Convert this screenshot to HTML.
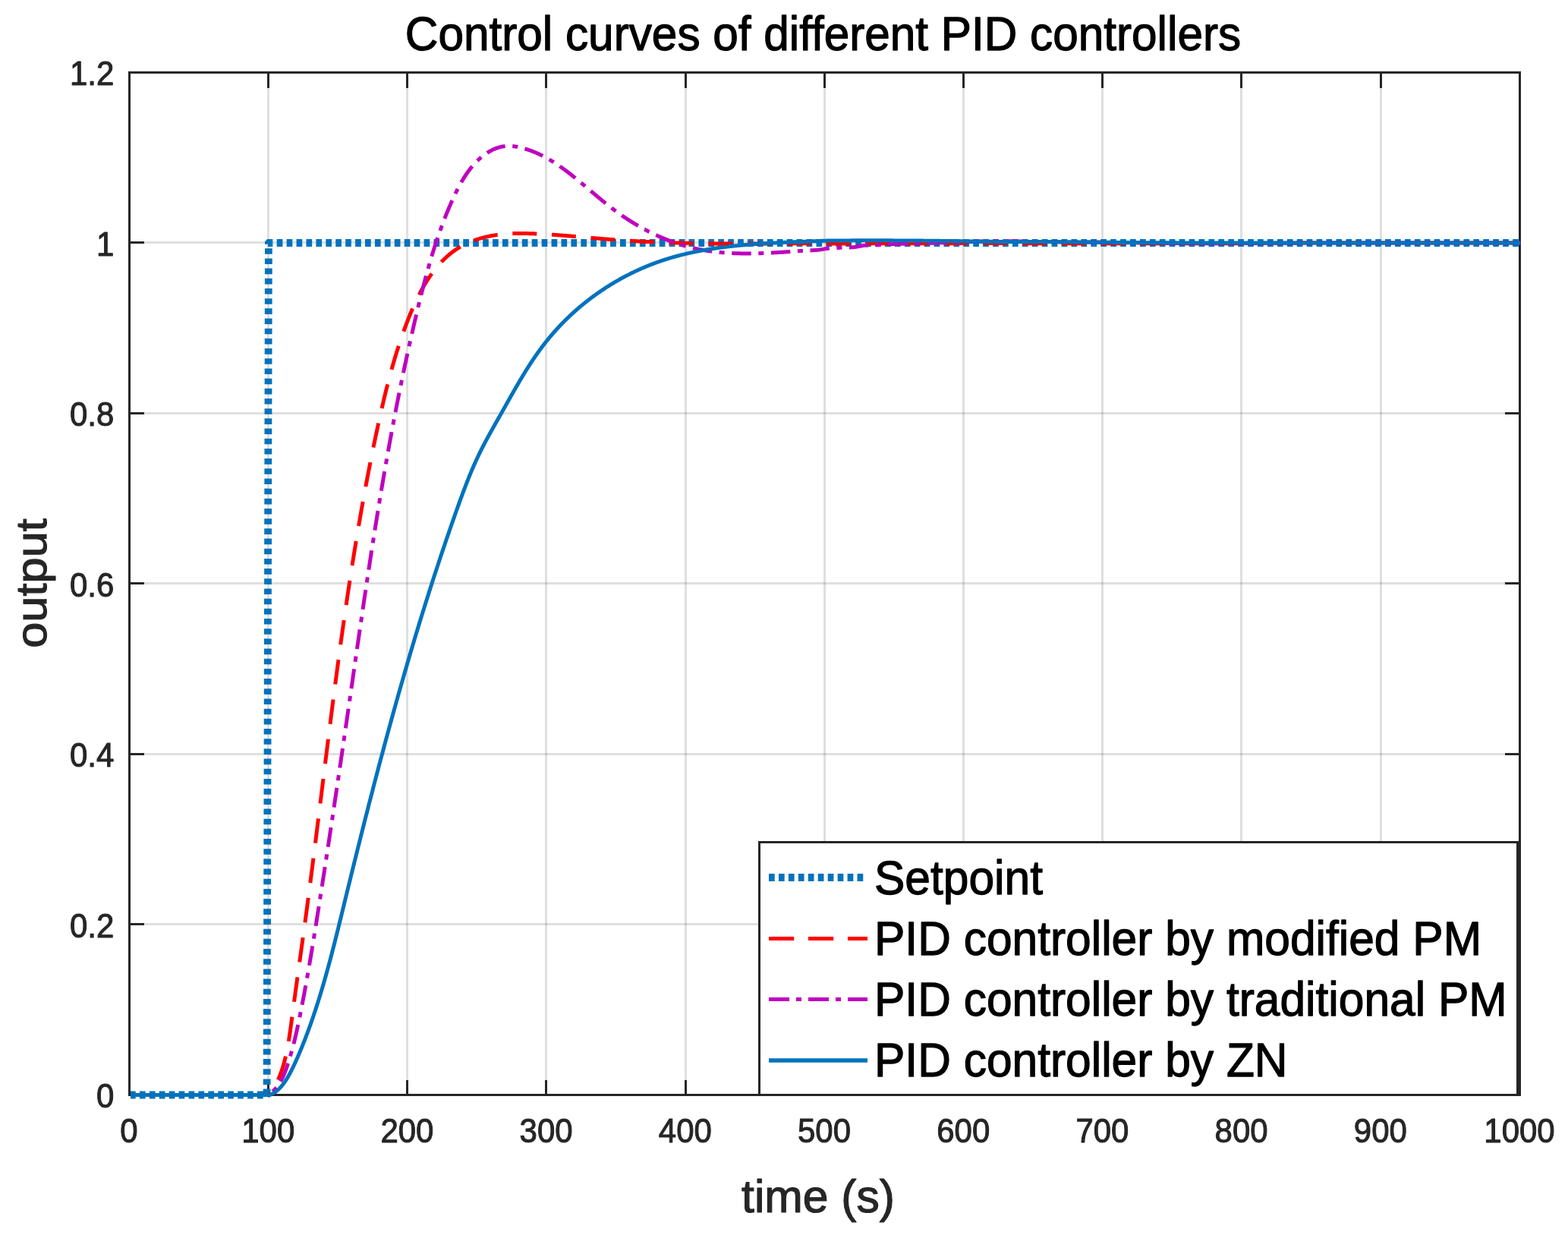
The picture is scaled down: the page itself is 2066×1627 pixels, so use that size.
<!DOCTYPE html><html><head><meta charset="utf-8"><title>Control curves of different PID controllers</title><style>html,body{margin:0;padding:0;background:#fff;overflow:hidden;}svg{display:block;}text{font-family:"Liberation Sans",Arial,Helvetica,sans-serif;}</style></head><body>
<svg width="2066" height="1627" viewBox="0 0 2066 1627">
<rect x="0" y="0" width="2066" height="1627" fill="#ffffff"/>
<defs><clipPath id="ax"><rect x="172" y="0" width="1831.5" height="1627"/></clipPath></defs>
<path d="M353.5,97 V1441 M536.5,97 V1441 M719.5,97 V1441 M903.5,97 V1441 M1086.5,97 V1441 M1269.5,97 V1441 M1452.5,97 V1441 M1635.5,97 V1441 M1819.5,97 V1441" stroke="#262626" stroke-opacity="0.15" stroke-width="3" fill="none"/>
<path d="M172,1217.5 H2001 M172,993.5 H2001 M172,768.5 H2001 M172,544.5 H2001 M172,319.5 H2001" stroke="#262626" stroke-opacity="0.15" stroke-width="3" fill="none"/>
<path d="M170.5,1442.5 V1422.9 M170.5,95.5 V116.0 M353.5,1442.5 V1422.9 M353.5,95.5 V116.0 M536.5,1442.5 V1422.9 M536.5,95.5 V116.0 M719.5,1442.5 V1422.9 M719.5,95.5 V116.0 M903.5,1442.5 V1422.9 M903.5,95.5 V116.0 M1086.5,1442.5 V1422.9 M1086.5,95.5 V116.0 M1269.5,1442.5 V1422.9 M1269.5,95.5 V116.0 M1452.5,1442.5 V1422.9 M1452.5,95.5 V116.0 M1635.5,1442.5 V1422.9 M1635.5,95.5 V116.0 M1819.5,1442.5 V1422.9 M1819.5,95.5 V116.0 M2002.5,1442.5 V1422.9 M2002.5,95.5 V116.0 M170.5,1442.5 H190.0 M2002.5,1442.5 H1983.0 M170.5,1217.5 H190.0 M2002.5,1217.5 H1983.0 M170.5,993.5 H190.0 M2002.5,993.5 H1983.0 M170.5,768.5 H190.0 M2002.5,768.5 H1983.0 M170.5,544.5 H190.0 M2002.5,544.5 H1983.0 M170.5,319.5 H190.0 M2002.5,319.5 H1983.0 M170.5,95.5 H190.0 M2002.5,95.5 H1983.0" stroke="#262626" stroke-width="3" fill="none"/>
<rect x="170.5" y="95.5" width="1832.0" height="1347.0" stroke="#262626" stroke-width="3" fill="none"/>
<g clip-path="url(#ax)" fill="none" stroke-linecap="butt" stroke-linejoin="round">
<path d="M171.00,1442.50 L178.70,1442.50 M183.92,1442.50 L191.62,1442.50 M196.85,1442.50 L204.55,1442.50 M209.77,1442.50 L217.47,1442.50 M222.69,1442.50 L230.39,1442.50 M235.62,1442.50 L243.32,1442.50 M248.54,1442.50 L256.24,1442.50 M261.47,1442.50 L269.17,1442.50 M274.39,1442.50 L282.09,1442.50 M287.31,1442.50 L295.01,1442.50 M300.24,1442.50 L307.94,1442.50 M313.16,1442.50 L320.86,1442.50 M326.08,1442.50 L333.78,1442.50 M339.01,1442.50 L346.71,1442.50 M351.60,1442.19 L351.62,1434.59 M351.63,1429.00 L351.64,1421.40 M351.65,1415.82 L351.67,1408.22 M351.68,1402.64 L351.70,1395.04 M351.71,1389.46 L351.72,1381.86 M351.74,1376.27 L351.75,1368.67 M351.76,1363.09 L351.78,1355.49 M351.79,1349.91 L351.81,1342.31 M351.82,1336.73 L351.83,1329.13 M351.84,1323.54 L351.86,1315.94 M351.87,1310.36 L351.89,1302.76 M351.90,1297.18 L351.91,1289.58 M351.92,1283.99 L351.94,1276.39 M351.95,1270.81 L351.97,1263.21 M351.98,1257.63 L351.99,1250.03 M352.01,1244.45 L352.02,1236.85 M352.03,1231.26 L352.05,1223.66 M352.06,1218.08 L352.08,1210.48 M352.09,1204.90 L352.10,1197.30 M352.11,1191.72 L352.13,1184.12 M352.14,1178.53 L352.16,1170.93 M352.17,1165.35 L352.18,1157.75 M352.19,1152.17 L352.21,1144.57 M352.22,1138.98 L352.24,1131.38 M352.25,1125.80 L352.26,1118.20 M352.28,1112.62 L352.29,1105.02 M352.30,1099.44 L352.32,1091.84 M352.33,1086.25 L352.35,1078.65 M352.36,1073.07 L352.37,1065.47 M352.38,1059.89 L352.40,1052.29 M352.41,1046.71 L352.43,1039.11 M352.44,1033.52 L352.45,1025.92 M352.47,1020.34 L352.48,1012.74 M352.49,1007.16 L352.51,999.56 M352.52,993.97 L352.53,986.37 M352.55,980.79 L352.56,973.19 M352.57,967.61 L352.59,960.01 M352.60,954.43 L352.62,946.83 M352.63,941.24 L352.64,933.64 M352.65,928.06 L352.67,920.46 M352.68,914.88 L352.70,907.28 M352.71,901.70 L352.72,894.10 M352.74,888.51 L352.75,880.91 M352.76,875.33 L352.78,867.73 M352.79,862.15 L352.80,854.55 M352.82,848.97 L352.83,841.37 M352.84,835.78 L352.86,828.18 M352.87,822.60 L352.89,815.00 M352.90,809.42 L352.91,801.82 M352.92,796.23 L352.94,788.63 M352.95,783.05 L352.97,775.45 M352.98,769.87 L352.99,762.27 M353.01,756.69 L353.02,749.09 M353.03,743.50 L353.05,735.90 M353.06,730.32 L353.07,722.72 M353.09,717.14 L353.10,709.54 M353.11,703.96 L353.13,696.36 M353.14,690.77 L353.16,683.17 M353.17,677.59 L353.18,669.99 M353.19,664.41 L353.21,656.81 M353.22,651.22 L353.24,643.62 M353.25,638.04 L353.26,630.44 M353.28,624.86 L353.29,617.26 M353.30,611.68 L353.32,604.08 M353.33,598.49 L353.34,590.89 M353.36,585.31 L353.37,577.71 M353.38,572.13 L353.40,564.53 M353.41,558.95 L353.43,551.35 M353.44,545.76 L353.45,538.16 M353.46,532.58 L353.48,524.98 M353.49,519.40 L353.51,511.80 M353.52,506.22 L353.53,498.62 M353.55,493.03 L353.56,485.43 M353.57,479.85 L353.59,472.25 M353.60,466.67 L353.62,459.07 M353.63,453.48 L353.64,445.88 M353.65,440.30 L353.67,432.70 M353.68,427.12 L353.70,419.52 M353.71,413.94 L353.72,406.34 M353.73,400.75 L353.75,393.15 M353.76,387.57 L353.78,379.97 M353.79,374.39 L353.80,366.79 M353.82,361.21 L353.83,353.61 M353.84,348.02 L353.86,340.42 M353.87,334.84 L353.89,327.24 M359.00,320.00 L359.48,320.00 M364.70,320.00 L372.40,320.00 M377.62,320.00 L385.32,320.00 M390.55,320.00 L398.25,320.00 M403.47,320.00 L411.17,320.00 M416.39,320.00 L424.09,320.00 M429.32,320.00 L437.02,320.00 M442.24,320.00 L449.94,320.00 M455.17,320.00 L462.87,320.00 M468.09,320.00 L475.79,320.00 M481.01,320.00 L488.71,320.00 M493.94,320.00 L501.64,320.00 M506.86,320.00 L514.56,320.00 M519.78,320.00 L527.48,320.00 M532.71,320.00 L540.41,320.00 M545.63,320.00 L553.33,320.00 M558.55,320.00 L566.25,320.00 M571.48,320.00 L579.18,320.00 M584.40,320.00 L592.10,320.00 M597.32,320.00 L605.02,320.00 M610.25,320.00 L617.95,320.00 M623.17,320.00 L630.87,320.00 M636.10,320.00 L643.80,320.00 M649.02,320.00 L656.72,320.00 M661.94,320.00 L669.64,320.00 M674.87,320.00 L682.57,320.00 M687.79,320.00 L695.49,320.00 M700.71,320.00 L708.41,320.00 M713.64,320.00 L721.34,320.00 M726.56,320.00 L734.26,320.00 M739.48,320.00 L747.18,320.00 M752.41,320.00 L760.11,320.00 M765.33,320.00 L773.03,320.00 M778.26,320.00 L785.96,320.00 M791.18,320.00 L798.88,320.00 M804.10,320.00 L811.80,320.00 M817.03,320.00 L824.73,320.00 M829.95,320.00 L837.65,320.00 M842.87,320.00 L850.57,320.00 M855.80,320.00 L863.50,320.00 M868.72,320.00 L876.42,320.00 M881.64,320.00 L889.34,320.00 M894.57,320.00 L902.27,320.00 M907.49,320.00 L915.19,320.00 M920.41,320.00 L928.11,320.00 M933.34,320.00 L941.04,320.00 M946.26,320.00 L953.96,320.00 M959.19,320.00 L966.89,320.00 M972.11,320.00 L979.81,320.00 M985.03,320.00 L992.73,320.00 M997.96,320.00 L1005.66,320.00 M1010.88,320.00 L1018.58,320.00 M1023.80,320.00 L1031.50,320.00 M1036.73,320.00 L1044.43,320.00 M1049.65,320.00 L1057.35,320.00 M1062.57,320.00 L1070.27,320.00 M1075.50,320.00 L1083.20,320.00 M1088.42,320.00 L1096.12,320.00 M1101.35,320.00 L1109.05,320.00 M1114.27,320.00 L1121.97,320.00 M1127.19,320.00 L1134.89,320.00 M1140.12,320.00 L1147.82,320.00 M1153.04,320.00 L1160.74,320.00 M1165.96,320.00 L1173.66,320.00 M1178.89,320.00 L1186.59,320.00 M1191.81,320.00 L1199.51,320.00 M1204.73,320.00 L1212.43,320.00 M1217.66,320.00 L1225.36,320.00 M1230.58,320.00 L1238.28,320.00 M1243.50,320.00 L1251.20,320.00 M1256.43,320.00 L1264.13,320.00 M1269.35,320.00 L1277.05,320.00 M1282.28,320.00 L1289.98,320.00 M1295.20,320.00 L1302.90,320.00 M1308.12,320.00 L1315.82,320.00 M1321.05,320.00 L1328.75,320.00 M1333.97,320.00 L1341.67,320.00 M1346.89,320.00 L1354.59,320.00 M1359.82,320.00 L1367.52,320.00 M1372.74,320.00 L1380.44,320.00 M1385.66,320.00 L1393.36,320.00 M1398.59,320.00 L1406.29,320.00 M1411.51,320.00 L1419.21,320.00 M1424.44,320.00 L1432.14,320.00 M1437.36,320.00 L1445.06,320.00 M1450.28,320.00 L1457.98,320.00 M1463.21,320.00 L1470.91,320.00 M1476.13,320.00 L1483.83,320.00 M1489.05,320.00 L1496.75,320.00 M1501.98,320.00 L1509.68,320.00 M1514.90,320.00 L1522.60,320.00 M1527.82,320.00 L1535.52,320.00 M1540.75,320.00 L1548.45,320.00 M1553.67,320.00 L1561.37,320.00 M1566.59,320.00 L1574.29,320.00 M1579.52,320.00 L1587.22,320.00 M1592.44,320.00 L1600.14,320.00 M1605.37,320.00 L1613.07,320.00 M1618.29,320.00 L1625.99,320.00 M1631.21,320.00 L1638.91,320.00 M1644.14,320.00 L1651.84,320.00 M1657.06,320.00 L1664.76,320.00 M1669.98,320.00 L1677.68,320.00 M1682.91,320.00 L1690.61,320.00 M1695.83,320.00 L1703.53,320.00 M1708.75,320.00 L1716.45,320.00 M1721.68,320.00 L1729.38,320.00 M1734.60,320.00 L1742.30,320.00 M1747.53,320.00 L1755.23,320.00 M1760.45,320.00 L1768.15,320.00 M1773.37,320.00 L1781.07,320.00 M1786.30,320.00 L1794.00,320.00 M1799.22,320.00 L1806.92,320.00 M1812.14,320.00 L1819.84,320.00 M1825.07,320.00 L1832.77,320.00 M1837.99,320.00 L1845.69,320.00 M1850.91,320.00 L1858.61,320.00 M1863.84,320.00 L1871.54,320.00 M1876.76,320.00 L1884.46,320.00 M1889.68,320.00 L1897.38,320.00 M1902.61,320.00 L1910.31,320.00 M1915.53,320.00 L1923.23,320.00 M1928.46,320.00 L1936.16,320.00 M1941.38,320.00 L1949.08,320.00 M1954.30,320.00 L1962.00,320.00 M1967.23,320.00 L1974.93,320.00 M1980.15,320.00 L1987.85,320.00 M1993.07,320.00 L2000.77,320.00" stroke="#0072bd" stroke-width="9.8"/>
<path d="M352.2,315.1 L358.8,315.1 L358.8,324.9 L353,324.9 L353,321.7 L349,321.7 L349,318.3 Z" fill="#0072bd" stroke="none"/>
<path d="M170.99,1442.50 L202.99,1442.50 M222.68,1442.50 L254.68,1442.50 M274.38,1442.50 L306.38,1442.50 M326.07,1442.50 L353.70,1442.50 L354.12,1442.93 L354.49,1442.45 L354.85,1441.98 L355.21,1441.50 L355.57,1441.02 L355.92,1440.54 L356.28,1440.06 L356.41,1439.86 M366.36,1422.56 L366.51,1422.22 L366.99,1421.16 L367.45,1420.09 L367.91,1419.01 L368.35,1417.93 L368.79,1416.84 L369.22,1415.76 L369.63,1414.66 L370.04,1413.57 L370.44,1412.47 L370.83,1411.36 L371.21,1410.25 L371.58,1409.14 L371.95,1408.03 L372.30,1406.91 L372.65,1405.79 L372.99,1404.67 L373.32,1403.54 L373.65,1402.42 L373.97,1401.29 L374.28,1400.15 L374.59,1399.02 L375.03,1397.31 L375.46,1395.60 L375.88,1393.88 L376.29,1392.16 L376.41,1391.63 M380.26,1371.94 L380.47,1370.70 L380.85,1368.36 L381.22,1366.01 L381.57,1363.67 L381.92,1361.32 L382.26,1358.97 L382.59,1356.62 L382.92,1354.26 L383.24,1351.91 L383.56,1349.55 L383.87,1347.20 L384.18,1344.84 L384.49,1342.49 L384.80,1340.13 L384.87,1339.64 M387.53,1319.73 L387.63,1318.97 L387.95,1316.62 L388.27,1314.27 L388.59,1311.93 L388.91,1309.58 L389.23,1307.23 L389.55,1304.89 L389.87,1302.55 L390.19,1300.20 L390.51,1297.86 L390.83,1295.52 L391.15,1293.17 L391.48,1290.83 L391.80,1288.49 L391.95,1287.41 M394.70,1267.52 L394.71,1267.44 L395.04,1265.11 L395.36,1262.77 L395.69,1260.43 L396.01,1258.10 L396.33,1255.76 L396.66,1253.43 L396.98,1251.09 L397.30,1248.76 L397.63,1246.42 L397.95,1244.09 L398.27,1241.75 L398.59,1239.42 L398.91,1237.08 L399.17,1235.20 M401.89,1215.30 L402.10,1213.75 L402.42,1211.41 L402.73,1209.08 L403.04,1206.74 L403.36,1204.41 L403.67,1202.08 L403.98,1199.74 L404.29,1197.41 L404.60,1195.07 L404.91,1192.74 L405.22,1190.41 L405.53,1188.07 L405.84,1185.74 L406.14,1183.40 L406.20,1182.96 M408.80,1163.04 L408.89,1162.39 L409.19,1160.06 L409.49,1157.72 L409.79,1155.39 L410.09,1153.05 L410.46,1150.13 L410.84,1147.21 L411.21,1144.30 L411.59,1141.38 L411.96,1138.46 L412.33,1135.54 L412.70,1132.62 L412.95,1130.68 M415.46,1110.76 L415.65,1109.26 L416.01,1106.34 L416.38,1103.41 L416.75,1100.49 L417.11,1097.57 L417.48,1094.65 L417.84,1091.73 L418.20,1088.81 L418.57,1085.89 L418.93,1082.96 L419.30,1080.04 L419.50,1078.38 M421.97,1058.45 L422.19,1056.66 L422.56,1053.73 L422.92,1050.81 L423.28,1047.89 L423.64,1044.96 L424.00,1042.04 L424.36,1039.11 L424.73,1036.19 L425.09,1033.26 L425.45,1030.34 L425.81,1027.41 L425.98,1026.06 M428.45,1006.13 L428.71,1004.00 L429.07,1001.08 L429.44,998.15 L429.80,995.22 L430.17,992.29 L430.53,989.37 L430.89,986.44 L431.26,983.51 L431.63,980.58 L431.99,977.65 L432.36,974.72 L432.48,973.75 M434.99,953.83 L435.31,951.28 L435.68,948.35 L436.05,945.42 L436.42,942.49 L436.80,939.56 L437.17,936.62 L437.54,933.69 L437.92,930.76 L438.22,928.42 L438.52,926.07 L438.82,923.73 L439.11,921.46 M441.70,901.55 L441.86,900.27 L442.17,897.92 L442.48,895.58 L442.79,893.23 L443.10,890.89 L443.41,888.54 L443.72,886.20 L444.03,883.85 L444.34,881.50 L444.65,879.16 L444.97,876.81 L445.28,874.47 L445.60,872.12 L445.91,869.78 L445.99,869.20 M448.70,849.30 L448.78,848.68 L449.10,846.33 L449.43,843.99 L449.75,841.65 L450.08,839.30 L450.40,836.96 L450.73,834.62 L451.06,832.27 L451.39,829.93 L451.72,827.59 L452.05,825.25 L452.38,822.90 L452.71,820.56 L453.04,818.22 L453.22,816.99 M456.09,797.12 L456.43,794.81 L456.77,792.47 L457.12,790.13 L457.46,787.79 L457.81,785.46 L458.16,783.12 L458.51,780.78 L458.86,778.44 L459.21,776.10 L459.56,773.77 L459.92,771.43 L460.27,769.09 L460.63,766.76 L460.92,764.85 M464.00,745.01 L464.25,743.41 L464.62,741.08 L464.99,738.75 L465.36,736.42 L465.73,734.09 L466.11,731.75 L466.48,729.42 L466.86,727.09 L467.24,724.76 L467.62,722.43 L468.00,720.11 L468.38,717.78 L468.76,715.45 L469.15,713.12 L469.20,712.81 M472.53,693.01 L472.67,692.19 L473.07,689.87 L473.47,687.55 L473.77,685.81 L474.07,684.07 L474.37,682.32 L474.68,680.58 L474.98,678.84 L475.29,677.10 L475.59,675.36 L475.90,673.62 L476.21,671.88 L476.52,670.15 L476.83,668.41 L477.14,666.67 L477.45,664.93 L477.76,663.19 L478.07,661.46 L478.18,660.88 M481.81,641.13 L481.90,640.63 L482.23,638.90 L482.55,637.17 L482.88,635.43 L483.21,633.70 L483.53,631.97 L483.86,630.24 L484.19,628.51 L484.53,626.78 L484.86,625.05 L485.19,623.32 L485.53,621.59 L485.86,619.86 L486.20,618.13 L486.54,616.40 L486.87,614.67 L487.21,612.95 L487.55,611.22 L487.90,609.49 L487.97,609.11 M491.94,589.43 L492.07,588.80 L492.43,587.08 L492.78,585.35 L493.14,583.63 L493.50,581.91 L493.86,580.19 L494.22,578.47 L494.58,576.75 L494.94,575.04 L495.31,573.32 L495.67,571.60 L496.04,569.88 L496.40,568.16 L496.77,566.45 L497.14,564.73 L497.51,563.01 L497.88,561.30 L498.25,559.58 L498.63,557.87 L498.70,557.53 M503.08,537.94 L503.22,537.33 L503.61,535.62 L504.01,533.91 L504.40,532.20 L504.80,530.49 L505.21,528.78 L505.61,527.07 L506.02,525.36 L506.42,523.66 L506.83,521.95 L507.25,520.24 L507.66,518.53 L508.08,516.82 L508.50,515.12 L508.93,513.41 L509.35,511.70 L509.78,510.00 L510.22,508.29 L510.65,506.58 L510.74,506.25 M515.92,486.87 L516.13,486.10 L516.45,484.97 L516.77,483.83 L517.09,482.69 L517.42,481.55 L517.75,480.41 L518.07,479.28 L518.40,478.14 L518.74,477.00 L519.07,475.86 L519.40,474.72 L519.74,473.58 L520.08,472.45 L520.42,471.31 L520.77,470.17 L521.11,469.03 L521.46,467.89 L521.81,466.75 L522.16,465.61 L522.51,464.47 L522.87,463.33 L523.22,462.19 L523.58,461.05 L523.94,459.91 L524.31,458.78 L524.67,457.64 L525.04,456.50 L525.31,455.67 M531.78,436.70 L532.05,435.95 L532.46,434.80 L532.87,433.66 L533.29,432.52 L533.71,431.37 L534.13,430.23 L534.56,429.08 L534.99,427.94 L535.42,426.80 L535.85,425.65 L536.28,424.51 L536.72,423.37 L537.17,422.23 L537.61,421.09 L538.06,419.94 L538.51,418.81 L538.96,417.67 L539.42,416.53 L539.88,415.39 L540.34,414.26 L540.81,413.12 L541.28,411.99 L541.75,410.86 L542.23,409.73 L542.71,408.60 L543.19,407.48 L543.66,406.40 M552.19,388.29 L552.52,387.64 L553.08,386.57 L553.64,385.50 L554.20,384.43 L554.77,383.37 L555.35,382.31 L555.92,381.26 L556.51,380.21 L557.09,379.16 L557.68,378.12 L558.28,377.09 L558.88,376.06 L559.18,375.54 L559.49,375.03 L559.79,374.52 L560.10,374.01 L560.40,373.50 L560.71,372.99 L561.02,372.48 L561.33,371.98 L561.64,371.47 L561.95,370.97 L562.27,370.47 L562.58,369.97 L562.90,369.47 L563.22,368.97 L563.54,368.47 L563.86,367.98 L564.18,367.48 L564.50,366.99 L564.82,366.50 L565.15,366.01 L565.48,365.52 L565.80,365.04 L566.13,364.55 L566.46,364.07 L566.79,363.58 L567.13,363.10 L567.46,362.62 L567.80,362.14 L568.13,361.67 L568.47,361.19 L568.81,360.72 L568.95,360.53 M581.59,345.15 L581.94,344.78 L582.34,344.37 L582.73,343.96 L583.12,343.56 L583.52,343.15 L583.92,342.75 L584.32,342.35 L584.72,341.95 L585.12,341.56 L585.52,341.17 L585.93,340.77 L586.34,340.39 L586.74,340.00 L587.15,339.61 L587.57,339.23 L587.98,338.85 L588.39,338.47 L588.81,338.10 L589.23,337.72 L589.65,337.35 L590.07,336.98 L590.49,336.61 L590.92,336.25 L591.34,335.88 L591.77,335.52 L592.20,335.16 L592.63,334.81 L593.06,334.45 L593.50,334.10 L593.93,333.75 L594.37,333.40 L594.81,333.06 L595.25,332.72 L595.69,332.38 L596.14,332.04 L596.58,331.70 L597.03,331.37 L597.48,331.04 L597.93,330.71 L598.38,330.38 L598.84,330.06 L599.29,329.74 L599.75,329.42 L600.21,329.10 L600.67,328.79 L601.14,328.48 L601.60,328.17 L602.07,327.86 L602.54,327.56 L603.01,327.26 L603.48,326.96 L603.95,326.66 L604.43,326.37 L604.90,326.08 L605.38,325.79 L605.86,325.50 L606.34,325.22 L606.66,325.04 M624.58,316.77 L624.79,316.69 L625.33,316.50 L625.87,316.31 L626.41,316.12 L626.96,315.93 L627.50,315.75 L628.05,315.57 L628.59,315.39 L629.14,315.21 L629.69,315.04 L630.24,314.87 L630.79,314.70 L631.35,314.53 L631.90,314.36 L632.45,314.20 L633.01,314.04 L633.57,313.88 L634.13,313.72 L634.69,313.57 L635.25,313.42 L635.81,313.27 L636.37,313.12 L636.93,312.97 L637.50,312.83 L638.06,312.69 L638.63,312.55 L639.20,312.41 L639.76,312.28 L640.33,312.14 L640.90,312.01 L641.47,311.88 L642.05,311.76 L642.62,311.63 L643.19,311.51 L643.77,311.39 L644.34,311.27 L644.92,311.15 L645.50,311.04 L646.07,310.92 L646.65,310.81 L647.23,310.70 L647.81,310.60 L648.39,310.49 L648.97,310.39 L649.56,310.29 L650.14,310.19 L650.72,310.09 L651.31,310.00 L651.89,309.90 L652.48,309.81 L653.06,309.72 L653.65,309.63 L654.24,309.55 L654.83,309.46 L655.41,309.38 L655.68,309.35 M675.30,307.66 L675.67,307.65 L676.27,307.62 L676.87,307.60 L677.47,307.58 L678.07,307.57 L678.67,307.55 L679.27,307.53 L679.87,307.52 L680.47,307.51 L681.07,307.50 L681.67,307.49 L682.28,307.48 L682.88,307.47 L683.48,307.47 L684.08,307.47 L684.68,307.46 L685.28,307.46 L685.88,307.46 L686.48,307.46 L687.09,307.46 L687.69,307.46 L688.29,307.47 L688.89,307.47 L689.49,307.48 L690.09,307.49 L690.69,307.49 L691.29,307.50 L691.90,307.51 L692.50,307.53 L693.10,307.54 L693.70,307.55 L694.30,307.56 L694.90,307.58 L695.50,307.59 L696.10,307.61 L696.70,307.63 L697.31,307.64 L697.91,307.66 L698.51,307.68 L699.11,307.70 L699.71,307.72 L700.31,307.74 L700.91,307.77 L701.51,307.79 L702.11,307.81 L702.71,307.83 L703.31,307.86 L703.91,307.88 L704.51,307.91 L705.11,307.93 L705.70,307.96 L706.30,307.99 L706.90,308.01 L707.29,308.03 M726.95,309.15 L727.16,309.16 L727.76,309.20 L728.35,309.24 L728.94,309.28 L729.54,309.32 L730.13,309.36 L730.72,309.40 L731.32,309.44 L731.91,309.48 L732.50,309.53 L733.09,309.57 L733.69,309.61 L734.28,309.65 L734.87,309.70 L735.46,309.74 L736.05,309.78 L736.64,309.83 L737.24,309.87 L737.83,309.91 L738.42,309.96 L739.01,310.00 L739.60,310.05 L740.19,310.09 L740.78,310.14 L741.37,310.18 L741.96,310.23 L742.55,310.27 L743.14,310.32 L743.73,310.36 L744.32,310.41 L744.92,310.46 L745.51,310.50 L746.09,310.55 L746.68,310.60 L747.27,310.64 L747.86,310.69 L748.45,310.74 L749.04,310.79 L749.63,310.83 L750.22,310.88 L750.81,310.93 L751.40,310.98 L751.99,311.03 L752.58,311.08 L753.17,311.12 L753.76,311.17 L754.34,311.22 L754.93,311.27 L755.52,311.32 L756.11,311.37 L756.70,311.42 L757.29,311.47 L757.87,311.52 L758.46,311.57 L758.86,311.60 M778.49,313.29 L779.01,313.34 L779.59,313.39 L780.18,313.44 L780.77,313.49 L781.35,313.54 L781.94,313.59 L782.53,313.64 L783.11,313.69 L783.70,313.74 L784.28,313.79 L784.87,313.84 L785.46,313.89 L786.04,313.94 L786.63,313.99 L787.21,314.04 L787.80,314.09 L788.38,314.14 L788.97,314.19 L789.56,314.24 L790.14,314.29 L790.73,314.34 L791.31,314.39 L791.90,314.44 L792.49,314.48 L793.07,314.53 L793.66,314.58 L794.24,314.63 L794.83,314.68 L795.41,314.73 L796.00,314.78 L796.59,314.82 L797.17,314.87 L797.76,314.92 L798.34,314.97 L798.93,315.01 L799.51,315.06 L800.10,315.11 L800.69,315.16 L801.27,315.20 L801.86,315.25 L802.44,315.30 L803.03,315.34 L803.61,315.39 L804.20,315.43 L804.79,315.48 L805.37,315.52 L805.96,315.57 L806.54,315.61 L807.13,315.66 L807.72,315.70 L808.30,315.75 L808.89,315.79 L809.47,315.84 L810.06,315.88 L810.38,315.90 M830.03,317.23 L830.59,317.27 L831.17,317.30 L831.76,317.34 L832.35,317.37 L832.93,317.41 L833.52,317.44 L834.11,317.48 L834.70,317.51 L835.28,317.55 L835.87,317.58 L836.46,317.61 L837.04,317.65 L837.63,317.68 L838.22,317.71 L838.81,317.75 L839.39,317.78 L839.98,317.81 L840.57,317.85 L841.15,317.88 L841.74,317.91 L842.33,317.94 L842.92,317.97 L843.50,318.00 L844.09,318.04 L844.68,318.07 L845.27,318.10 L845.85,318.13 L846.44,318.16 L847.03,318.19 L847.62,318.22 L848.20,318.25 L848.79,318.28 L849.38,318.31 L849.97,318.34 L850.55,318.37 L851.14,318.39 L851.73,318.42 L852.32,318.45 L852.91,318.48 L853.49,318.51 L854.08,318.54 L854.67,318.56 L855.26,318.59 L855.84,318.62 L856.43,318.65 L857.02,318.67 L857.61,318.70 L858.20,318.73 L858.78,318.75 L859.37,318.78 L859.96,318.81 L860.55,318.83 L861.14,318.86 L861.72,318.88 L861.99,318.89 M881.67,319.64 L881.73,319.65 L882.32,319.66 L882.91,319.68 L883.49,319.70 L884.08,319.72 L884.67,319.74 L885.26,319.76 L885.85,319.78 L886.44,319.80 L887.03,319.82 L887.62,319.83 L888.21,319.85 L888.79,319.87 L889.38,319.89 L889.97,319.90 L890.56,319.92 L891.15,319.94 L891.74,319.96 L892.33,319.97 L892.92,319.99 L893.51,320.01 L894.09,320.02 L894.68,320.04 L895.27,320.05 L895.86,320.07 L896.45,320.09 L897.04,320.10 L897.63,320.12 L898.22,320.13 L898.81,320.15 L899.40,320.16 L899.99,320.18 L900.58,320.19 L901.16,320.21 L901.75,320.22 L902.34,320.24 L902.93,320.25 L903.52,320.26 L904.11,320.28 L904.70,320.29 L905.29,320.31 L905.88,320.32 L906.47,320.33 L907.06,320.35 L907.65,320.36 L908.24,320.37 L908.83,320.38 L909.42,320.40 L910.00,320.41 L910.59,320.42 L911.18,320.43 L911.77,320.45 L912.36,320.46 L912.95,320.47 L913.54,320.48 L913.66,320.48 M933.35,320.80 L933.59,320.81 L934.18,320.81 L934.77,320.82 L935.36,320.83 L935.95,320.84 L936.54,320.84 L937.13,320.85 L937.72,320.86 L938.31,320.86 L938.90,320.87 L939.49,320.88 L940.08,320.88 L940.67,320.89 L941.26,320.90 L941.85,320.90 L942.44,320.91 L943.03,320.91 L943.62,320.92 L944.21,320.93 L944.80,320.93 L945.40,320.94 L945.99,320.94 L946.58,320.95 L947.17,320.95 L947.76,320.96 L948.35,320.96 L948.94,320.97 L949.53,320.97 L950.12,320.98 L950.71,320.98 L951.30,320.99 L951.89,320.99 L952.48,320.99 L953.07,321.00 L953.66,321.00 L954.25,321.01 L954.84,321.01 L955.43,321.01 L956.02,321.02 L956.61,321.02 L957.20,321.03 L957.79,321.03 L958.38,321.03 L958.97,321.04 L959.56,321.04 L960.15,321.04 L960.74,321.04 L961.33,321.05 L961.92,321.05 L962.51,321.05 L963.11,321.06 L963.70,321.06 L964.29,321.06 L964.88,321.06 L965.35,321.07 M985.05,321.10 L985.55,321.10 L986.14,321.10 L986.73,321.10 L987.32,321.10 L987.91,321.10 L988.50,321.10 L989.09,321.10 L989.68,321.10 L990.27,321.10 L990.87,321.10 L991.46,321.10 L992.05,321.10 L992.64,321.10 L993.23,321.10 L993.82,321.09 L994.41,321.09 L995.00,321.09 L995.59,321.09 L996.18,321.09 L996.77,321.09 L997.36,321.09 L997.95,321.09 L998.55,321.09 L999.14,321.08 L999.73,321.08 L1000.32,321.08 L1000.91,321.08 L1001.50,321.08 L1002.09,321.08 L1002.68,321.07 L1003.27,321.07 L1003.86,321.07 L1004.45,321.07 L1005.05,321.07 L1005.64,321.07 L1006.23,321.06 L1006.82,321.06 L1007.41,321.06 L1008.00,321.06 L1008.59,321.06 L1009.18,321.05 L1009.77,321.05 L1010.36,321.05 L1010.95,321.05 L1011.55,321.04 L1012.14,321.04 L1012.73,321.04 L1013.32,321.04 L1013.91,321.04 L1014.50,321.03 L1015.09,321.03 L1015.68,321.03 L1016.27,321.03 L1016.86,321.02 L1017.05,321.02 M1036.74,320.92 L1036.96,320.92 L1037.55,320.92 L1038.14,320.91 L1038.73,320.91 L1039.32,320.91 L1039.91,320.90 L1040.50,320.90 L1041.09,320.90 L1041.68,320.89 L1042.27,320.89 L1042.87,320.88 L1043.46,320.88 L1044.05,320.88 L1044.64,320.87 L1045.23,320.87 L1045.82,320.87 L1046.41,320.86 L1047.00,320.86 L1047.59,320.86 L1048.18,320.85 L1048.78,320.85 L1049.37,320.85 L1049.96,320.84 L1050.55,320.84 L1051.14,320.84 L1051.73,320.83 L1052.32,320.83 L1052.91,320.83 L1053.50,320.82 L1054.09,320.82 L1054.68,320.81 L1055.28,320.81 L1055.87,320.81 L1056.46,320.80 L1057.05,320.80 L1057.64,320.80 L1058.23,320.79 L1058.82,320.79 L1059.41,320.79 L1061.41,320.80 L1063.41,320.80 L1065.41,320.81 L1067.41,320.82 L1068.74,320.82 M1088.43,320.89 L1089.41,320.89 L1091.41,320.89 L1093.41,320.90 L1095.41,320.90 L1097.41,320.90 L1099.41,320.90 L1101.41,320.90 L1103.41,320.90 L1105.41,320.90 L1107.41,320.90 L1109.41,320.90 L1111.41,320.89 L1113.41,320.89 L1115.41,320.89 L1117.41,320.89 L1119.41,320.88 L1120.43,320.88 M1140.13,320.84 L1141.41,320.84 L1143.41,320.83 L1145.41,320.83 L1147.41,320.82 L1149.41,320.82 L1151.41,320.81 L1153.41,320.81 L1155.41,320.80 L1157.41,320.80 L1159.41,320.79 L1161.41,320.79 L1163.41,320.78 L1165.41,320.77 L1167.41,320.77 L1169.41,320.76 L1171.41,320.76 L1172.13,320.76 M1191.82,320.71 L1193.41,320.71 L1195.41,320.71 L1197.41,320.70 L1199.41,320.70 L1201.41,320.70 L1203.41,320.70 L1205.41,320.69 L1207.41,320.69 L1209.41,320.69 L1211.41,320.68 L1213.41,320.68 L1215.41,320.68 L1217.41,320.68 L1219.41,320.67 L1221.41,320.67 L1223.41,320.67 L1223.82,320.67 M1243.52,320.64 L1245.41,320.64 L1247.41,320.64 L1249.41,320.63 L1251.41,320.63 L1253.41,320.63 L1255.41,320.63 L1257.41,320.63 L1259.41,320.62 L1261.41,320.62 L1263.41,320.62 L1265.41,320.62 L1267.41,320.62 L1269.41,320.61 L1271.41,320.61 L1273.41,320.61 L1275.41,320.61 L1275.52,320.61 M1295.21,320.60 L1295.41,320.60 L1297.41,320.60 L1299.41,320.60 L1301.41,320.60 L1303.41,320.60 L1305.41,320.60 L1307.41,320.60 L1309.41,320.60 L1311.41,320.60 L1313.41,320.60 L1315.41,320.60 L1317.41,320.61 L1319.41,320.61 L1321.41,320.61 L1323.41,320.61 L1325.41,320.61 L1327.21,320.61 M1346.91,320.63 L1347.41,320.63 L1349.41,320.64 L1351.41,320.64 L1353.41,320.64 L1355.41,320.64 L1357.41,320.65 L1359.41,320.65 L1361.41,320.65 L1363.41,320.65 L1365.41,320.66 L1367.41,320.66 L1369.41,320.66 L1371.41,320.67 L1373.41,320.67 L1375.41,320.67 L1377.41,320.67 L1378.91,320.68 M1398.60,320.70 L1399.41,320.70 L1401.41,320.70 L1403.41,320.70 L1405.41,320.71 L1407.41,320.71 L1409.41,320.71 L1411.41,320.71 L1413.41,320.71 L1415.41,320.72 L1417.41,320.72 L1419.41,320.72 L1421.41,320.73 L1423.41,320.73 L1425.41,320.73 L1427.41,320.73 L1429.41,320.74 L1430.60,320.74 M1450.29,320.76 L1451.41,320.76 L1453.41,320.77 L1455.41,320.77 L1457.41,320.77 L1459.41,320.77 L1461.41,320.78 L1463.41,320.78 L1465.41,320.78 L1467.41,320.78 L1469.41,320.78 L1471.41,320.79 L1473.41,320.79 L1475.41,320.79 L1477.41,320.79 L1479.41,320.79 L1481.41,320.79 L1482.29,320.79 M1501.99,320.80 L1503.41,320.80 L1505.41,320.80 L1507.41,320.80 L1509.41,320.80 L1511.41,320.80 L1513.41,320.80 L1515.41,320.80 L1517.41,320.80 L1519.41,320.80 L1521.41,320.80 L1523.41,320.80 L1525.41,320.80 L1527.41,320.80 L1529.41,320.80 L1531.41,320.80 L1533.41,320.80 L1533.99,320.80 M1553.68,320.80 L1555.41,320.80 L1557.41,320.80 L1559.41,320.80 L1561.41,320.80 L1563.41,320.80 L1565.41,320.80 L1567.41,320.80 L1569.41,320.80 L1571.41,320.80 L1573.41,320.80 L1575.41,320.80 L1577.41,320.80 L1579.41,320.80 L1581.41,320.80 L1583.41,320.80 L1585.41,320.80 L1585.68,320.80 M1605.38,320.79 L1605.41,320.79 L1607.41,320.79 L1609.41,320.78 L1611.41,320.77 L1613.41,320.76 L1615.41,320.75 L1617.41,320.74 L1619.41,320.73 L1621.41,320.72 L1623.41,320.70 L1625.41,320.69 L1627.41,320.67 L1629.41,320.66 L1631.41,320.64 L1633.41,320.63 L1635.41,320.61 L1637.38,320.60 M1657.07,320.44 L1657.41,320.44 L1659.41,320.42 L1661.41,320.40 L1663.41,320.38 L1665.41,320.37 L1667.41,320.35 L1669.41,320.33 L1671.41,320.30 L1673.41,320.28 L1675.41,320.27 L1677.41,320.25 L1679.41,320.23 L1681.41,320.21 L1683.41,320.19 L1685.41,320.18 L1687.41,320.16 L1689.07,320.15 M1708.76,320.08 L1709.41,320.08 L1711.41,320.08 L1713.41,320.08 L1715.41,320.07 L1717.41,320.07 L1719.41,320.07 L1721.41,320.06 L1723.41,320.06 L1725.41,320.06 L1727.41,320.05 L1729.41,320.05 L1731.41,320.05 L1733.41,320.05 L1735.41,320.04 L1737.41,320.04 L1739.41,320.04 L1740.76,320.04 M1760.46,320.02 L1761.41,320.02 L1763.41,320.01 L1765.41,320.01 L1767.41,320.01 L1769.41,320.01 L1771.41,320.01 L1773.41,320.01 L1775.41,320.01 L1777.41,320.01 L1779.41,320.00 L1781.41,320.00 L1783.41,320.00 L1785.41,320.00 L1787.41,320.00 L1789.41,320.00 L1791.41,320.00 L1792.46,320.00 M1812.15,320.00 L1813.41,320.00 L1815.41,320.00 L1817.41,320.00 L1819.41,320.00 L1821.41,320.00 L1823.41,320.00 L1825.41,320.00 L1827.41,320.00 L1829.41,320.00 L1831.41,320.00 L1833.41,320.00 L1835.41,320.00 L1837.41,320.00 L1839.41,320.00 L1841.41,320.00 L1843.41,320.00 L1844.15,320.00 M1863.85,320.00 L1865.41,320.00 L1867.41,320.00 L1869.41,320.00 L1871.41,320.00 L1873.41,320.00 L1875.41,320.00 L1877.41,320.00 L1879.41,320.00 L1881.41,320.00 L1883.41,320.00 L1885.41,320.00 L1887.41,320.00 L1889.41,320.00 L1891.41,320.00 L1893.41,320.00 L1895.41,320.00 L1895.85,320.00 M1915.54,320.00 L1917.41,320.00 L1919.41,320.00 L1921.41,320.00 L1923.41,320.00 L1925.41,320.00 L1927.41,320.00 L1929.41,320.00 L1931.41,320.00 L1933.41,320.00 L1935.41,320.00 L1937.41,320.00 L1939.41,320.00 L1941.41,320.00 L1943.41,320.00 L1945.41,320.00 L1947.41,320.00 L1947.54,320.00 M1967.24,320.00 L1967.41,320.00 L1969.41,320.00 L1971.41,320.00 L1973.41,320.00 L1975.41,320.00 L1977.41,320.00 L1979.41,320.00 L1981.41,320.00 L1983.41,320.00 L1985.41,320.00 L1987.41,320.00 L1989.41,320.00 L1991.41,320.00 L1993.41,320.00 L1995.41,320.00 L1997.41,320.00 L1999.24,320.00" stroke="#ff0000" stroke-width="5"/>
<path d="M170.71,1442.50 L196.21,1442.50 M205.81,1442.50 L212.81,1442.50 M222.40,1442.50 L247.90,1442.50 M257.50,1442.50 L264.50,1442.50 M274.10,1442.50 L299.60,1442.50 M309.20,1442.50 L316.20,1442.50 M325.79,1442.50 L351.29,1442.50 M359.37,1438.01 L359.83,1437.58 L360.30,1437.13 L360.75,1436.67 L361.20,1436.21 L361.64,1435.75 L362.08,1435.28 L362.51,1434.80 L362.93,1434.32 L363.34,1433.84 L363.75,1433.35 L364.16,1432.85 L364.18,1432.83 M369.64,1424.79 L369.85,1424.42 L370.17,1423.86 L370.48,1423.30 L370.78,1422.73 L371.37,1421.60 L371.95,1420.45 L372.51,1419.29 L373.06,1418.13 L373.59,1416.95 L374.11,1415.76 L374.62,1414.57 L375.11,1413.37 L375.59,1412.16 L376.06,1410.95 L376.52,1409.73 L376.97,1408.51 L377.41,1407.28 L377.84,1406.05 L378.26,1404.81 L378.68,1403.57 L379.09,1402.33 L379.50,1401.09 L379.57,1400.89 M382.46,1391.55 L382.58,1391.14 L382.94,1389.90 L383.30,1388.65 L383.66,1387.40 L384.01,1386.15 L384.36,1384.90 L384.42,1384.70 M386.92,1375.25 L387.01,1374.88 L387.33,1373.62 L387.64,1372.37 L387.95,1371.11 L388.25,1369.85 L388.56,1368.60 L388.86,1367.34 L389.30,1365.45 L389.74,1363.56 L390.18,1361.67 L390.60,1359.78 L391.03,1357.89 L391.45,1355.99 L391.86,1354.10 L392.27,1352.21 L392.67,1350.31 L392.75,1349.93 M394.74,1340.35 L395.03,1338.92 L395.41,1337.02 L395.79,1335.12 L396.14,1333.36 M398.03,1323.76 L398.04,1323.70 L398.41,1321.80 L398.77,1319.89 L399.14,1317.99 L399.50,1316.08 L399.86,1314.18 L400.22,1312.27 L400.58,1310.36 L400.94,1308.46 L401.29,1306.55 L401.64,1304.64 L401.99,1302.73 L402.34,1300.82 L402.69,1298.91 L402.82,1298.21 M404.55,1288.58 L404.75,1287.45 L405.09,1285.54 L405.43,1283.63 L405.77,1281.71 L405.79,1281.56 M407.47,1271.92 L407.76,1270.24 L408.08,1268.32 L408.41,1266.41 L408.74,1264.49 L409.06,1262.58 L409.38,1260.66 L409.71,1258.75 L410.03,1256.83 L410.35,1254.92 L410.67,1253.00 L410.98,1251.08 L411.30,1249.17 L411.62,1247.25 L411.78,1246.28 M413.36,1236.63 L413.50,1235.75 L413.81,1233.83 L414.12,1231.91 L414.43,1230.00 L414.50,1229.58 M416.04,1219.92 L416.27,1218.49 L416.58,1216.57 L416.88,1214.65 L417.19,1212.73 L417.49,1210.81 L417.79,1208.90 L418.10,1206.98 L418.40,1205.06 L418.70,1203.14 L419.00,1201.22 L419.31,1199.30 L419.61,1197.39 L419.91,1195.47 L420.10,1194.24 M421.61,1184.57 L422.01,1182.04 L422.40,1179.48 L422.71,1177.52 M424.21,1167.86 L424.39,1166.69 L424.79,1164.14 L425.18,1161.58 L425.58,1159.02 L425.97,1156.46 L426.37,1153.91 L426.76,1151.35 L427.15,1148.79 L427.55,1146.23 L427.94,1143.68 L428.17,1142.16 M429.65,1132.49 L429.90,1130.89 L430.29,1128.33 L430.68,1125.78 L430.73,1125.43 M432.20,1115.76 L432.23,1115.55 L432.62,1112.99 L433.01,1110.43 L433.40,1107.88 L433.78,1105.32 L434.17,1102.76 L434.56,1100.20 L434.94,1097.65 L435.33,1095.09 L435.71,1092.53 L436.09,1090.06 M437.54,1080.38 L437.63,1079.75 L438.02,1077.19 L438.40,1074.63 L438.60,1073.32 M440.04,1063.64 L440.31,1061.84 L440.69,1059.29 L441.07,1056.73 L441.45,1054.17 L441.83,1051.61 L442.21,1049.05 L442.59,1046.50 L442.97,1043.94 L443.35,1041.38 L443.73,1038.82 L443.86,1037.93 M445.30,1028.24 L445.62,1026.03 L446.00,1023.47 L446.34,1021.18 M447.76,1011.51 L447.88,1010.68 L448.26,1008.12 L448.63,1005.56 L449.01,1003.00 L449.39,1000.44 L449.76,997.88 L450.13,995.32 L450.51,992.76 L450.88,990.20 L451.26,987.65 L451.53,985.78 M452.94,976.10 L453.12,974.85 L453.50,972.29 L453.87,969.73 L453.97,969.03 M455.38,959.35 L455.73,956.92 L456.10,954.36 L456.47,951.80 L456.84,949.24 L457.22,946.68 L457.59,944.12 L457.96,941.55 L458.33,938.99 L458.70,936.43 L459.07,933.87 L459.10,933.62 M460.50,923.94 L460.55,923.62 L460.92,921.06 L461.29,918.49 L461.52,916.87 M462.91,907.19 L463.13,905.68 L463.50,903.12 L463.87,900.55 L464.24,897.99 L464.61,895.42 L464.97,892.86 L465.34,890.30 L465.71,887.73 L466.08,885.17 L466.45,882.60 L466.61,881.45 M468.01,871.77 L468.29,869.78 L468.66,867.22 L469.03,864.70 M470.42,855.02 L470.51,854.39 L470.88,851.83 L471.25,849.26 L471.62,846.70 L472.00,844.13 L472.37,841.57 L472.74,839.00 L473.11,836.44 L473.48,833.87 L473.85,831.30 L474.15,829.29 M475.56,819.60 L475.72,818.48 L476.10,815.91 L476.47,813.35 L476.59,812.54 M478.01,802.86 L478.35,800.52 L478.73,797.96 L479.11,795.39 L479.49,792.83 L479.86,790.27 L480.24,787.70 L480.62,785.14 L481.00,782.57 L481.39,780.01 L481.77,777.44 L481.81,777.14 M483.26,767.46 L483.30,767.19 L483.69,764.62 L484.07,762.06 L484.32,760.41 M485.78,750.73 L486.01,749.24 L486.40,746.68 L486.79,744.12 L487.18,741.55 L487.57,738.99 L487.96,736.43 L488.36,733.87 L488.75,731.30 L489.15,728.74 L489.54,726.18 L489.72,725.04 M491.23,715.36 L491.44,714.01 L491.74,712.09 L492.04,710.17 L492.33,708.31 M493.86,698.65 L493.86,698.65 L494.16,696.73 L494.47,694.81 L494.78,692.89 L495.08,690.97 L495.39,689.05 L495.70,687.13 L496.01,685.22 L496.31,683.30 L496.62,681.38 L496.94,679.46 L497.25,677.54 L497.56,675.62 L497.87,673.70 L497.99,672.99 M499.57,663.33 L499.76,662.20 L500.07,660.28 L500.39,658.36 L500.71,656.45 L500.73,656.29 M502.35,646.64 L502.63,644.95 L502.95,643.03 L503.28,641.12 L503.60,639.20 L503.93,637.29 L504.25,635.37 L504.58,633.46 L504.91,631.54 L505.23,629.63 L505.56,627.71 L505.89,625.80 L506.22,623.89 L506.55,621.97 L506.72,621.02 M508.40,611.38 L508.56,610.49 L508.89,608.58 L509.23,606.67 L509.57,604.76 L509.64,604.35 M511.36,594.72 L511.62,593.29 L511.96,591.38 L512.31,589.47 L512.65,587.56 L513.00,585.65 L513.35,583.74 L513.70,581.83 L514.05,579.92 L514.40,578.01 L514.75,576.10 L515.10,574.19 L515.45,572.28 L515.81,570.37 L516.03,569.15 M517.84,559.53 L517.95,558.93 L518.31,557.02 L518.67,555.12 L519.04,553.21 L519.17,552.52 M521.01,542.92 L521.23,541.78 L521.60,539.88 L521.97,537.97 L522.34,536.07 L522.72,534.16 L523.09,532.26 L523.46,530.36 L523.84,528.46 L524.22,526.55 L524.59,524.65 L524.97,522.75 L525.35,520.85 L525.73,518.95 L526.04,517.42 M527.98,507.83 L528.04,507.54 L528.43,505.64 L528.82,503.75 L529.21,501.85 L529.42,500.84 M531.41,491.27 L531.58,490.46 L531.98,488.56 L532.38,486.67 L532.78,484.77 L533.18,482.88 L533.59,480.98 L533.99,479.08 L534.40,477.19 L534.80,475.30 L535.21,473.40 L535.62,471.51 L536.03,469.61 L536.44,467.72 L536.85,465.86 M538.95,456.30 L539.36,454.48 L539.78,452.59 L540.21,450.70 L540.51,449.34 M542.67,439.81 L542.77,439.36 L543.20,437.47 L543.64,435.59 L544.07,433.70 L544.51,431.81 L544.94,429.93 L545.38,428.04 L545.82,426.15 L546.26,424.27 L546.71,422.38 L547.15,420.50 L547.60,418.62 L548.04,416.73 L548.49,414.85 L548.57,414.50 M550.86,404.99 L551.06,404.18 L551.36,402.93 L551.67,401.67 L551.97,400.42 L552.28,399.17 L552.55,398.07 M554.90,388.58 L555.08,387.89 L555.39,386.64 L555.71,385.39 L556.02,384.14 L556.34,382.89 L556.66,381.64 L556.98,380.39 L557.30,379.14 L557.62,377.89 L557.94,376.64 L558.27,375.39 L558.59,374.14 L558.92,372.89 L559.25,371.64 L559.58,370.39 L559.91,369.15 L560.24,367.90 L560.57,366.65 L560.91,365.40 L561.24,364.16 L561.44,363.44 M564.04,354.01 L564.33,352.95 L564.69,351.71 L565.04,350.46 L565.39,349.22 L565.75,347.98 L565.99,347.15 M568.75,337.78 L569.04,336.81 L569.42,335.57 L569.80,334.34 L570.18,333.10 L570.56,331.86 L570.94,330.62 L571.33,329.39 L571.72,328.15 L572.11,326.92 L572.50,325.68 L572.90,324.45 L573.29,323.21 L573.69,321.98 L574.10,320.74 L574.50,319.51 L574.91,318.28 L575.32,317.05 L575.73,315.81 L576.14,314.58 L576.56,313.35 L576.66,313.06 M579.88,303.83 L579.99,303.53 L580.43,302.30 L580.87,301.07 L581.32,299.85 L581.77,298.63 L582.22,297.40 L582.32,297.14 M585.79,288.02 L585.94,287.63 L586.42,286.41 L586.90,285.19 L587.38,283.98 L587.87,282.76 L588.36,281.54 L588.86,280.33 L589.36,279.11 L589.86,277.90 L590.36,276.68 L590.87,275.47 L591.38,274.26 L591.90,273.04 L592.42,271.83 L592.94,270.62 L593.46,269.41 L593.99,268.20 L594.52,266.99 L595.06,265.79 L595.60,264.58 L595.81,264.10 M599.92,255.25 L600.06,254.96 L600.63,253.77 L601.22,252.58 L601.81,251.39 L602.40,250.21 L603.00,249.03 L603.08,248.88 M607.70,240.31 L608.02,239.74 L608.35,239.17 L608.68,238.60 L609.02,238.04 L609.35,237.47 L609.69,236.91 L610.03,236.35 L610.37,235.79 L610.71,235.23 L611.05,234.67 L611.40,234.12 L611.75,233.56 L612.10,233.01 L612.45,232.46 L612.80,231.92 L613.16,231.37 L613.52,230.83 L613.88,230.28 L614.24,229.74 L614.61,229.20 L614.98,228.67 L615.35,228.13 L615.72,227.60 L616.09,227.07 L616.47,226.54 L616.85,226.02 L617.23,225.49 L617.61,224.97 L618.00,224.45 L618.39,223.94 L618.78,223.42 L619.18,222.91 L619.57,222.40 L619.97,221.89 L620.37,221.39 L620.78,220.89 L621.18,220.39 L621.59,219.89 L622.00,219.39 L622.31,219.03 M628.90,211.92 L628.98,211.85 L629.44,211.40 L629.90,210.96 L630.37,210.52 L630.84,210.08 L631.31,209.65 L631.79,209.22 L632.26,208.79 L632.75,208.37 L633.23,207.94 L633.72,207.53 L634.13,207.18 M641.89,201.43 L641.93,201.40 L642.47,201.06 L643.01,200.72 L643.55,200.39 L644.10,200.06 L644.64,199.74 L645.19,199.42 L645.74,199.11 L646.30,198.81 L646.85,198.51 L647.41,198.21 L647.97,197.93 L648.54,197.64 L649.10,197.37 L649.67,197.10 L650.24,196.84 L650.81,196.58 L651.39,196.33 L651.96,196.09 L652.54,195.85 L653.12,195.62 L653.71,195.40 L654.29,195.19 L654.88,194.98 L655.47,194.78 L656.06,194.58 L656.65,194.40 L657.24,194.22 L657.84,194.05 L658.44,193.88 L659.04,193.73 L659.64,193.58 L660.24,193.44 L660.84,193.31 L661.45,193.18 L662.06,193.07 L662.67,192.96 L663.28,192.86 L663.89,192.77 L664.51,192.69 L665.12,192.62 L665.62,192.56 M675.20,192.58 L675.75,192.63 L676.38,192.70 L677.01,192.77 L677.64,192.85 L678.27,192.93 L678.90,193.02 L679.54,193.12 L680.17,193.22 L680.80,193.33 L681.43,193.44 L682.06,193.56 L682.13,193.58 M691.45,195.89 L692.02,196.06 L692.63,196.24 L693.25,196.43 L693.85,196.62 L694.46,196.82 L695.07,197.02 L695.67,197.22 L696.28,197.42 L696.88,197.63 L697.48,197.84 L698.08,198.05 L698.68,198.26 L699.27,198.48 L699.87,198.70 L700.46,198.92 L701.05,199.15 L701.64,199.38 L702.23,199.61 L702.82,199.84 L703.41,200.08 L703.99,200.31 L704.58,200.56 L705.16,200.80 L705.74,201.05 L706.32,201.30 L706.90,201.55 L707.48,201.80 L708.06,202.06 L708.63,202.32 L709.21,202.58 L709.78,202.84 L710.35,203.11 L710.92,203.38 L711.49,203.65 L712.06,203.92 L712.63,204.20 L713.20,204.48 L713.76,204.76 L714.32,205.04 L714.89,205.32 L715.13,205.45 M723.58,210.08 L723.75,210.18 L724.29,210.50 L724.83,210.82 L725.38,211.15 L725.92,211.47 L726.46,211.80 L727.00,212.13 L727.54,212.46 L728.08,212.80 L728.62,213.13 L729.16,213.47 L729.59,213.75 M737.63,219.09 L737.64,219.10 L738.17,219.47 L738.69,219.83 L739.21,220.20 L739.74,220.57 L740.26,220.94 L740.78,221.32 L741.30,221.69 L741.82,222.07 L742.34,222.44 L742.86,222.82 L743.37,223.20 L743.89,223.58 L744.41,223.96 L744.92,224.35 L745.44,224.73 L745.96,225.12 L746.47,225.50 L746.98,225.89 L747.50,226.28 L748.01,226.67 L748.52,227.06 L749.04,227.45 L749.55,227.85 L750.06,228.24 L750.57,228.64 L751.08,229.03 L751.59,229.43 L752.10,229.83 L752.61,230.23 L753.12,230.63 L753.63,231.03 L754.13,231.43 L754.64,231.84 L755.15,232.24 L755.66,232.65 L756.16,233.05 L756.67,233.46 L757.18,233.87 L757.68,234.28 L758.09,234.60 M765.56,240.75 L765.74,240.90 L766.24,241.32 L766.75,241.74 L767.25,242.16 L767.75,242.58 L768.25,243.00 L768.75,243.43 L769.26,243.85 L769.76,244.27 L770.26,244.69 L770.76,245.11 L770.97,245.29 M778.35,251.54 L778.79,251.91 L779.29,252.33 L779.79,252.76 L780.30,253.18 L780.80,253.61 L781.30,254.03 L781.81,254.46 L782.31,254.88 L782.81,255.31 L783.32,255.73 L783.82,256.16 L784.33,256.58 L784.83,257.01 L785.34,257.43 L785.84,257.85 L786.35,258.28 L786.85,258.70 L787.36,259.12 L787.87,259.55 L788.37,259.97 L788.88,260.39 L789.39,260.81 L789.89,261.24 L790.40,261.66 L790.91,262.08 L791.42,262.50 L791.93,262.92 L792.44,263.34 L792.95,263.76 L793.46,264.17 L793.97,264.59 L794.48,265.01 L794.99,265.43 L795.51,265.84 L796.02,266.26 L796.53,266.67 L797.05,267.09 L797.56,267.50 L798.07,267.91 L798.13,267.95 M805.74,273.92 L805.86,274.02 L806.39,274.42 L806.91,274.82 L807.44,275.21 L807.97,275.61 L808.49,276.01 L809.02,276.40 L809.55,276.79 L810.08,277.19 L810.61,277.58 L811.14,277.97 L811.38,278.15 M819.25,283.75 L819.72,284.08 L820.26,284.45 L820.81,284.82 L821.35,285.19 L821.90,285.56 L822.44,285.93 L822.99,286.29 L823.53,286.66 L824.08,287.02 L824.63,287.39 L825.17,287.75 L825.72,288.11 L826.27,288.47 L826.82,288.83 L827.37,289.19 L827.93,289.54 L828.48,289.90 L829.03,290.25 L829.58,290.60 L830.14,290.96 L830.69,291.31 L831.25,291.66 L831.80,292.00 L832.36,292.35 L832.92,292.70 L833.47,293.04 L834.03,293.38 L834.59,293.73 L835.15,294.07 L835.71,294.41 L836.27,294.74 L836.83,295.08 L837.39,295.42 L837.96,295.75 L838.52,296.09 L839.08,296.42 L839.65,296.75 L840.21,297.08 L840.78,297.41 L840.90,297.48 M849.32,302.18 L849.33,302.18 L849.90,302.49 L850.48,302.79 L851.05,303.10 L851.63,303.40 L852.21,303.71 L852.78,304.01 L853.36,304.31 L853.94,304.61 L854.52,304.90 L855.10,305.20 L855.55,305.43 M864.21,309.64 L864.44,309.74 L865.03,310.01 L865.62,310.29 L866.21,310.55 L866.80,310.82 L867.39,311.09 L867.98,311.35 L868.57,311.62 L869.16,311.88 L869.75,312.14 L870.35,312.40 L870.94,312.66 L871.53,312.91 L872.13,313.17 L872.72,313.42 L873.32,313.67 L873.91,313.92 L874.51,314.17 L875.10,314.42 L875.70,314.67 L876.30,314.91 L876.90,315.15 L877.49,315.39 L878.09,315.63 L878.69,315.87 L879.29,316.11 L879.89,316.34 L880.49,316.58 L881.09,316.81 L881.69,317.04 L882.30,317.27 L882.90,317.50 L883.50,317.72 L884.10,317.95 L884.71,318.17 L885.31,318.39 L885.92,318.61 L886.52,318.83 L887.13,319.05 L887.73,319.26 L887.87,319.31 M897.00,322.34 L897.48,322.49 L898.09,322.68 L898.70,322.87 L899.31,323.05 L899.93,323.23 L900.54,323.42 L901.16,323.60 L901.77,323.77 L902.39,323.95 L903.00,324.12 L903.62,324.30 L903.72,324.33 M913.03,326.72 L913.52,326.84 L914.14,326.98 L914.76,327.12 L915.38,327.26 L916.00,327.40 L916.63,327.54 L917.25,327.68 L917.87,327.81 L918.50,327.94 L919.12,328.07 L919.74,328.20 L920.37,328.33 L920.99,328.45 L921.62,328.58 L922.25,328.70 L922.87,328.82 L923.50,328.94 L924.12,329.06 L924.75,329.17 L925.38,329.29 L926.01,329.40 L926.63,329.51 L927.26,329.62 L927.89,329.73 L928.52,329.83 L929.15,329.94 L929.78,330.04 L930.40,330.14 L931.03,330.24 L931.66,330.34 L932.29,330.44 L932.92,330.53 L933.56,330.63 L934.19,330.72 L934.82,330.81 L935.45,330.90 L936.08,330.99 L936.71,331.07 L937.35,331.16 L937.98,331.24 L938.12,331.26 M947.67,332.34 L948.13,332.39 L948.77,332.45 L949.41,332.51 L950.04,332.56 L950.68,332.62 L951.32,332.67 L951.96,332.73 L952.59,332.78 L953.23,332.83 L953.87,332.88 L954.51,332.93 L954.64,332.94 M964.22,333.52 L964.75,333.55 L965.40,333.58 L966.04,333.60 L966.68,333.63 L967.32,333.66 L967.97,333.68 L968.61,333.70 L969.25,333.73 L969.90,333.75 L970.54,333.77 L971.18,333.79 L971.83,333.81 L972.47,333.82 L973.11,333.84 L973.76,333.85 L974.40,333.87 L975.05,333.88 L975.69,333.89 L976.34,333.91 L976.98,333.92 L977.63,333.93 L978.27,333.93 L978.92,333.94 L979.56,333.95 L980.21,333.95 L980.85,333.96 L981.50,333.96 L982.14,333.97 L982.79,333.97 L983.44,333.97 L984.08,333.97 L984.73,333.97 L985.38,333.97 L986.02,333.96 L986.67,333.96 L987.32,333.96 L987.96,333.95 L988.61,333.95 L989.26,333.94 L989.71,333.94 M999.31,333.74 L999.63,333.73 L1000.28,333.71 L1000.93,333.70 L1001.58,333.68 L1002.23,333.65 L1002.88,333.63 L1003.53,333.61 L1004.18,333.59 L1004.83,333.56 L1005.48,333.54 L1006.13,333.52 L1006.31,333.51 M1015.89,333.08 L1016.53,333.04 L1017.18,333.01 L1017.83,332.98 L1018.48,332.94 L1019.13,332.91 L1019.78,332.87 L1020.43,332.84 L1021.08,332.80 L1021.74,332.76 L1022.39,332.73 L1023.04,332.69 L1023.69,332.65 L1024.34,332.61 L1024.99,332.57 L1025.64,332.53 L1026.29,332.49 L1026.94,332.46 L1027.59,332.42 L1028.25,332.37 L1028.90,332.33 L1029.55,332.29 L1030.20,332.25 L1030.85,332.21 L1031.50,332.17 L1032.15,332.13 L1032.80,332.08 L1033.45,332.04 L1034.10,332.00 L1034.76,331.95 L1035.41,331.91 L1036.06,331.87 L1036.71,331.82 L1037.36,331.78 L1038.01,331.73 L1038.66,331.69 L1039.31,331.64 L1039.96,331.60 L1040.61,331.55 L1041.26,331.51 L1041.34,331.50 M1050.92,330.82 L1051.02,330.81 L1051.67,330.77 L1052.32,330.72 L1052.97,330.67 L1053.62,330.62 L1054.27,330.58 L1054.92,330.53 L1055.57,330.48 L1056.22,330.44 L1056.87,330.39 L1057.52,330.34 L1057.90,330.31 M1067.49,329.96 L1069.47,329.85 L1071.47,329.71 L1073.47,329.56 L1075.47,329.39 L1077.47,329.22 L1079.47,329.05 L1081.47,328.83 L1083.47,328.52 L1085.47,328.14 L1087.47,327.75 L1089.47,327.41 L1091.47,327.15 L1092.80,327.04 M1102.39,326.52 L1103.47,326.47 L1105.47,326.39 L1107.47,326.31 L1109.38,326.25 M1118.97,325.97 L1119.47,325.96 L1121.47,325.87 L1123.47,325.76 L1125.47,325.56 L1127.47,325.28 L1129.47,324.94 L1131.47,324.58 L1133.47,324.21 L1135.47,323.87 L1137.47,323.58 L1139.47,323.37 L1141.47,323.24 L1143.47,323.15 L1144.28,323.12 M1153.88,322.81 L1155.47,322.75 L1157.47,322.67 L1159.47,322.57 L1160.87,322.50 M1170.45,321.92 L1171.47,321.85 L1173.47,321.74 L1175.47,321.63 L1177.47,321.53 L1179.47,321.44 L1181.47,321.37 L1183.47,321.31 L1185.47,321.26 L1187.47,321.21 L1189.47,321.16 L1191.47,321.12 L1193.47,321.07 L1195.47,321.03 L1195.93,321.02 M1205.53,320.81 L1207.47,320.76 L1209.47,320.71 L1211.47,320.65 L1212.53,320.62 M1222.12,320.36 L1223.47,320.32 L1225.47,320.26 L1227.47,320.20 L1229.47,320.14 L1231.47,320.09 L1233.47,320.03 L1235.47,319.97 L1237.47,319.91 L1239.47,319.85 L1241.47,319.79 L1243.47,319.73 L1245.47,319.67 L1247.47,319.60 L1247.61,319.60 M1257.20,319.29 L1257.47,319.28 L1259.47,319.22 L1261.47,319.15 L1263.47,319.08 L1264.20,319.05 M1273.79,318.67 L1275.47,318.60 L1277.47,318.52 L1279.47,318.44 L1281.47,318.37 L1283.47,318.30 L1285.47,318.23 L1287.47,318.17 L1289.47,318.11 L1291.47,318.06 L1293.47,318.01 L1295.47,317.95 L1297.47,317.90 L1299.27,317.85 M1308.87,317.65 L1309.47,317.64 L1311.47,317.62 L1313.47,317.60 L1315.47,317.60 L1315.87,317.60 M1325.46,317.68 L1325.47,317.68 L1327.47,317.70 L1329.47,317.74 L1331.47,317.77 L1333.47,317.80 L1335.47,317.84 L1337.47,317.87 L1339.47,317.91 L1341.47,317.94 L1343.47,317.98 L1345.47,318.01 L1347.47,318.04 L1349.47,318.07 L1350.96,318.10 M1360.56,318.29 L1361.47,318.31 L1363.47,318.35 L1365.47,318.39 L1367.47,318.43 L1367.56,318.43 M1377.15,318.57 L1377.47,318.58 L1379.47,318.60 L1381.47,318.61 L1383.47,318.62 L1385.47,318.64 L1387.47,318.65 L1389.47,318.66 L1391.47,318.67 L1393.47,318.68 L1395.47,318.69 L1397.47,318.69 L1399.47,318.70 L1401.47,318.71 L1402.65,318.71 M1412.25,318.75 L1413.47,318.76 L1415.47,318.77 L1417.47,318.78 L1419.25,318.79 M1428.84,318.88 L1429.47,318.88 L1431.47,318.91 L1433.47,318.93 L1435.47,318.95 L1437.47,318.98 L1439.47,319.00 L1441.47,319.03 L1443.47,319.06 L1445.47,319.08 L1447.47,319.11 L1449.47,319.14 L1451.47,319.17 L1453.47,319.20 L1454.34,319.22 M1463.94,319.36 L1465.47,319.39 L1467.47,319.42 L1469.47,319.45 L1470.94,319.47 M1480.53,319.61 L1481.47,319.62 L1483.47,319.65 L1485.47,319.68 L1487.47,319.71 L1489.47,319.74 L1491.47,319.77 L1493.47,319.80 L1495.47,319.83 L1497.47,319.86 L1499.47,319.89 L1501.47,319.92 L1503.47,319.95 L1505.47,319.98 L1506.03,319.99 M1515.63,320.13 L1517.47,320.15 L1519.47,320.18 L1521.47,320.20 L1522.63,320.22 M1532.22,320.32 L1533.47,320.34 L1535.47,320.36 L1537.47,320.38 L1539.47,320.40 L1541.47,320.42 L1543.47,320.44 L1545.47,320.47 L1547.47,320.49 L1549.47,320.51 L1551.47,320.53 L1553.47,320.55 L1555.47,320.57 L1557.47,320.59 L1557.72,320.59 M1567.32,320.66 L1567.47,320.66 L1569.47,320.67 L1571.47,320.68 L1573.47,320.69 L1574.32,320.69 M1583.92,320.70 L1585.47,320.70 L1587.47,320.70 L1589.47,320.70 L1591.47,320.69 L1593.47,320.69 L1595.47,320.69 L1597.47,320.69 L1599.47,320.69 L1601.47,320.68 L1603.47,320.68 L1605.47,320.68 L1607.47,320.67 L1609.42,320.67 M1619.02,320.65 L1619.47,320.65 L1621.47,320.64 L1623.47,320.64 L1625.47,320.64 L1626.02,320.63 M1635.61,320.61 L1637.47,320.61 L1639.47,320.60 L1641.47,320.60 L1643.47,320.59 L1645.47,320.58 L1647.47,320.58 L1649.47,320.57 L1651.47,320.56 L1653.47,320.55 L1655.47,320.54 L1657.47,320.53 L1659.47,320.53 L1661.11,320.52 M1670.71,320.46 L1671.47,320.46 L1673.47,320.45 L1675.47,320.44 L1677.47,320.42 L1677.71,320.42 M1687.30,320.36 L1687.47,320.36 L1689.47,320.35 L1691.47,320.34 L1693.47,320.33 L1695.47,320.32 L1697.47,320.30 L1699.47,320.29 L1701.47,320.28 L1703.47,320.27 L1705.47,320.26 L1707.47,320.25 L1709.47,320.24 L1711.47,320.23 L1712.80,320.23 M1722.40,320.19 L1723.47,320.19 L1725.47,320.18 L1727.47,320.17 L1729.40,320.17 M1739.00,320.13 L1739.47,320.13 L1741.47,320.13 L1743.47,320.12 L1745.47,320.11 L1747.47,320.11 L1749.47,320.10 L1751.47,320.09 L1753.47,320.09 L1755.47,320.08 L1757.47,320.07 L1759.47,320.07 L1761.47,320.06 L1763.47,320.06 L1764.50,320.05 M1774.10,320.03 L1775.47,320.03 L1777.47,320.02 L1779.47,320.02 L1781.10,320.02 M1790.69,320.00 L1791.47,320.00 L1793.47,320.00 L1795.47,320.00 L1797.47,320.00 L1799.47,320.00 L1801.47,320.00 L1803.47,320.00 L1805.47,320.00 L1807.47,320.00 L1809.47,320.00 L1811.47,320.00 L1813.47,320.00 L1815.47,320.00 L1816.19,320.00 M1825.79,320.00 L1827.47,320.00 L1829.47,320.00 L1831.47,320.00 L1832.79,320.00 M1842.39,320.00 L1843.47,320.00 L1845.47,320.00 L1847.47,320.00 L1849.47,320.00 L1851.47,320.00 L1853.47,320.00 L1855.47,320.00 L1857.47,320.00 L1859.47,320.00 L1861.47,320.00 L1863.47,320.00 L1865.47,320.00 L1867.47,320.00 L1867.89,320.00 M1877.49,320.00 L1879.47,320.00 L1881.47,320.00 L1883.47,320.00 L1884.49,320.00 M1894.08,320.00 L1895.47,320.00 L1897.47,320.00 L1899.47,320.00 L1901.47,320.00 L1903.47,320.00 L1905.47,320.00 L1907.47,320.00 L1909.47,320.00 L1911.47,320.00 L1913.47,320.00 L1915.47,320.00 L1917.47,320.00 L1919.47,320.00 L1919.58,320.00 M1929.18,320.00 L1929.47,320.00 L1931.47,320.00 L1933.47,320.00 L1935.47,320.00 L1936.18,320.00 M1945.78,320.00 L1947.47,320.00 L1949.47,320.00 L1951.47,320.00 L1953.47,320.00 L1955.47,320.00 L1957.47,320.00 L1959.47,320.00 L1961.47,320.00 L1963.47,320.00 L1965.47,320.00 L1967.47,320.00 L1969.47,320.00 L1971.28,320.00 M1980.88,320.00 L1981.47,320.00 L1983.47,320.00 L1985.47,320.00 L1987.47,320.00 L1987.88,320.00 M1997.47,320.00 L1999.47,320.00 L2001.47,320.00 L2003.47,320.00 L2003.50,320.00" stroke="#bf00bf" stroke-width="5"/>
<path d="M170.50,1442.50 L353.70,1442.50 L354.43,1443.04 L354.92,1442.85 L355.41,1442.65 L355.90,1442.45 L356.38,1442.25 L356.86,1442.03 L357.33,1441.81 L357.79,1441.58 L358.25,1441.35 L358.71,1441.11 L359.16,1440.86 L359.61,1440.61 L360.05,1440.35 L360.49,1440.09 L360.93,1439.82 L361.35,1439.54 L361.78,1439.26 L362.20,1438.98 L362.62,1438.68 L363.03,1438.39 L363.44,1438.08 L363.84,1437.78 L364.24,1437.47 L364.64,1437.15 L365.03,1436.83 L365.42,1436.50 L365.80,1436.17 L366.18,1435.83 L366.56,1435.49 L366.93,1435.15 L367.30,1434.80 L367.67,1434.45 L368.03,1434.09 L368.39,1433.73 L368.75,1433.36 L369.10,1432.99 L369.45,1432.62 L369.79,1432.24 L370.14,1431.86 L370.47,1431.48 L370.81,1431.09 L371.14,1430.70 L371.47,1430.31 L371.80,1429.91 L372.12,1429.51 L372.45,1429.11 L372.76,1428.70 L373.08,1428.29 L373.39,1427.88 L373.70,1427.46 L374.01,1427.05 L374.31,1426.63 L374.62,1426.20 L375.21,1425.35 L375.80,1424.49 L376.38,1423.61 L376.95,1422.74 L377.51,1421.85 L378.06,1420.95 L378.61,1420.05 L379.14,1419.15 L379.67,1418.24 L380.20,1417.32 L380.71,1416.40 L381.22,1415.48 L381.73,1414.55 L382.23,1413.62 L382.72,1412.69 L383.21,1411.75 L383.70,1410.82 L384.17,1409.87 L384.65,1408.93 L385.12,1407.99 L385.58,1407.04 L386.04,1406.09 L386.50,1405.14 L386.95,1404.19 L387.40,1403.23 L387.85,1402.28 L388.29,1401.32 L388.73,1400.37 L389.17,1399.41 L389.61,1398.45 L390.04,1397.49 L390.47,1396.53 L390.90,1395.58 L391.32,1394.62 L391.74,1393.66 L392.16,1392.70 L392.58,1391.74 L393.00,1390.78 L393.41,1389.82 L393.83,1388.86 L394.24,1387.90 L394.64,1386.93 L395.05,1385.97 L395.46,1385.01 L395.86,1384.05 L396.26,1383.08 L396.66,1382.12 L397.05,1381.16 L397.45,1380.19 L397.84,1379.23 L398.23,1378.26 L398.62,1377.30 L399.01,1376.33 L399.40,1375.37 L399.79,1374.40 L400.17,1373.43 L400.55,1372.46 L400.93,1371.49 L401.31,1370.52 L401.69,1369.55 L402.06,1368.58 L402.44,1367.61 L402.81,1366.64 L403.18,1365.67 L403.55,1364.70 L403.92,1363.73 L404.29,1362.75 L404.66,1361.78 L405.02,1360.80 L405.39,1359.83 L405.75,1358.85 L406.11,1357.88 L406.47,1356.90 L406.83,1355.92 L407.18,1354.95 L407.54,1353.97 L407.89,1352.99 L408.24,1352.01 L408.59,1351.03 L408.94,1350.05 L409.29,1349.07 L409.64,1348.09 L409.99,1347.11 L410.33,1346.13 L410.67,1345.14 L411.02,1344.16 L411.36,1343.18 L411.70,1342.20 L412.04,1341.21 L412.37,1340.23 L412.71,1339.24 L413.04,1338.26 L413.38,1337.27 L413.71,1336.28 L414.04,1335.30 L414.37,1334.31 L414.70,1333.32 L415.03,1332.33 L415.36,1331.35 L415.68,1330.36 L416.01,1329.37 L416.33,1328.38 L416.65,1327.39 L416.97,1326.40 L417.29,1325.41 L417.61,1324.42 L417.93,1323.42 L418.25,1322.43 L418.56,1321.44 L418.88,1320.45 L419.19,1319.45 L419.50,1318.46 L419.81,1317.47 L420.12,1316.47 L420.43,1315.48 L420.74,1314.48 L421.05,1313.49 L421.36,1312.49 L421.66,1311.50 L421.97,1310.50 L422.27,1309.50 L422.57,1308.50 L422.87,1307.51 L423.17,1306.51 L423.62,1305.01 L424.07,1303.51 L424.51,1302.01 L424.96,1300.52 L425.40,1299.01 L425.84,1297.51 L426.28,1296.01 L426.71,1294.51 L427.14,1293.01 L427.58,1291.50 L428.01,1290.00 L428.43,1288.49 L428.86,1286.99 L429.28,1285.48 L429.71,1283.97 L430.13,1282.47 L430.55,1280.96 L430.96,1279.45 L431.38,1277.94 L431.80,1276.43 L432.21,1274.92 L432.62,1273.41 L433.03,1271.90 L433.44,1270.38 L433.85,1268.87 L434.25,1267.36 L434.66,1265.85 L435.06,1264.33 L435.46,1262.82 L435.86,1261.30 L436.26,1259.79 L436.66,1258.27 L437.05,1256.75 L437.45,1255.24 L437.84,1253.72 L438.24,1252.20 L438.63,1250.69 L439.02,1249.17 L439.41,1247.65 L439.80,1246.13 L440.19,1244.61 L440.57,1243.09 L440.96,1241.57 L441.35,1240.05 L441.73,1238.53 L442.11,1237.01 L442.50,1235.49 L442.88,1233.97 L443.26,1232.44 L443.64,1230.92 L444.02,1229.40 L444.40,1227.88 L444.78,1226.36 L445.15,1224.83 L445.53,1223.31 L445.91,1221.79 L446.28,1220.26 L446.66,1218.74 L447.03,1217.22 L447.41,1215.69 L447.78,1214.17 L448.16,1212.64 L448.53,1211.12 L448.90,1209.60 L449.28,1208.07 L449.65,1206.55 L450.02,1205.02 L450.39,1203.50 L450.76,1201.97 L451.14,1200.45 L451.51,1198.92 L451.88,1197.40 L452.25,1195.87 L452.62,1194.35 L452.99,1192.82 L453.36,1191.30 L453.73,1189.78 L454.10,1188.25 L454.48,1186.73 L454.85,1185.20 L455.22,1183.68 L455.59,1182.15 L455.96,1180.63 L456.33,1179.10 L456.71,1177.58 L457.08,1176.06 L457.45,1174.53 L457.82,1173.01 L458.19,1171.48 L458.57,1169.96 L458.94,1168.44 L459.31,1166.91 L459.69,1165.39 L460.06,1163.87 L460.43,1162.34 L460.81,1160.82 L461.18,1159.30 L461.56,1157.77 L461.93,1156.25 L462.30,1154.73 L462.68,1153.20 L463.05,1151.68 L463.43,1150.16 L463.80,1148.64 L464.18,1147.11 L464.55,1145.59 L464.93,1144.07 L465.31,1142.55 L465.68,1141.03 L466.06,1139.50 L466.43,1137.98 L466.81,1136.46 L467.19,1134.94 L467.57,1133.42 L467.94,1131.89 L468.32,1130.37 L468.70,1128.85 L469.08,1127.33 L469.45,1125.81 L469.83,1124.29 L470.21,1122.77 L470.59,1121.25 L470.97,1119.72 L471.35,1118.20 L471.73,1116.68 L472.11,1115.16 L472.49,1113.64 L472.87,1112.12 L473.25,1110.60 L473.63,1109.08 L474.01,1107.56 L474.39,1106.04 L474.77,1104.52 L475.15,1103.00 L475.53,1101.48 L475.91,1099.96 L476.30,1098.44 L476.68,1096.92 L477.06,1095.40 L477.44,1093.88 L477.83,1092.37 L478.21,1090.85 L478.59,1089.33 L478.98,1087.81 L479.36,1086.29 L479.75,1084.77 L480.13,1083.25 L480.52,1081.73 L480.90,1080.22 L481.29,1078.70 L481.67,1077.18 L482.06,1075.66 L482.44,1074.14 L482.83,1072.63 L483.22,1071.11 L483.60,1069.59 L483.99,1068.07 L484.38,1066.55 L484.77,1065.04 L485.16,1063.52 L485.54,1062.00 L485.93,1060.49 L486.32,1058.97 L486.71,1057.45 L487.10,1055.94 L487.49,1054.42 L487.88,1052.90 L488.27,1051.39 L488.66,1049.87 L489.05,1048.35 L489.45,1046.84 L489.84,1045.32 L490.23,1043.81 L490.62,1042.29 L491.01,1040.77 L491.41,1039.26 L491.80,1037.74 L492.19,1036.23 L492.59,1034.71 L492.98,1033.20 L493.38,1031.68 L493.77,1030.17 L494.17,1028.65 L494.56,1027.14 L494.96,1025.62 L495.35,1024.11 L495.75,1022.59 L496.15,1021.08 L496.54,1019.57 L496.94,1018.05 L497.34,1016.54 L497.74,1015.02 L498.14,1013.51 L498.54,1012.00 L498.94,1010.48 L499.33,1008.97 L499.73,1007.46 L500.14,1005.94 L500.54,1004.43 L500.94,1002.92 L501.34,1001.41 L501.74,999.89 L502.14,998.38 L502.54,996.87 L502.95,995.36 L503.35,993.84 L503.75,992.33 L504.16,990.82 L504.56,989.31 L504.97,987.80 L505.37,986.29 L505.78,984.77 L506.18,983.26 L506.59,981.75 L507.00,980.24 L507.40,978.73 L507.81,977.22 L508.22,975.71 L508.63,974.20 L509.04,972.69 L509.44,971.18 L509.85,969.67 L510.26,968.16 L510.67,966.65 L511.08,965.14 L511.50,963.63 L511.91,962.12 L512.32,960.61 L512.73,959.10 L513.14,957.59 L513.56,956.08 L513.97,954.57 L514.38,953.06 L514.80,951.55 L515.21,950.05 L515.63,948.54 L516.04,947.03 L516.46,945.52 L516.88,944.01 L517.29,942.50 L517.71,941.00 L518.13,939.49 L518.55,937.98 L518.96,936.47 L519.38,934.97 L519.80,933.46 L520.22,931.95 L520.64,930.45 L521.06,928.94 L521.48,927.43 L521.91,925.93 L522.33,924.42 L522.75,922.91 L523.17,921.41 L523.60,919.90 L524.02,918.40 L524.45,916.89 L524.87,915.38 L525.30,913.88 L525.72,912.37 L526.15,910.87 L526.58,909.36 L527.00,907.86 L527.43,906.35 L527.86,904.85 L528.29,903.35 L528.72,901.84 L529.15,900.34 L529.58,898.83 L530.01,897.33 L530.44,895.83 L530.87,894.32 L531.30,892.82 L531.73,891.31 L532.17,889.81 L532.60,888.31 L533.03,886.81 L533.47,885.30 L533.90,883.80 L534.34,882.30 L534.78,880.80 L535.21,879.29 L535.65,877.79 L536.09,876.29 L536.52,874.79 L536.96,873.29 L537.40,871.78 L537.84,870.28 L538.28,868.78 L538.72,867.28 L539.16,865.78 L539.61,864.28 L540.05,862.78 L540.49,861.28 L540.93,859.78 L541.38,858.28 L541.82,856.78 L542.27,855.28 L542.71,853.78 L543.16,852.28 L543.61,850.78 L544.05,849.28 L544.50,847.78 L544.95,846.28 L545.40,844.78 L545.85,843.28 L546.30,841.79 L546.60,840.79 L546.90,839.79 L547.20,838.79 L547.50,837.79 L547.80,836.79 L548.10,835.79 L548.40,834.79 L548.71,833.80 L549.01,832.80 L549.31,831.80 L549.61,830.80 L549.92,829.80 L550.22,828.80 L550.52,827.81 L550.83,826.81 L551.13,825.81 L551.43,824.81 L551.74,823.82 L552.04,822.82 L552.35,821.82 L552.65,820.82 L552.96,819.82 L553.26,818.83 L553.57,817.83 L553.88,816.83 L554.18,815.84 L554.49,814.84 L554.80,813.84 L555.10,812.84 L555.41,811.85 L555.72,810.85 L556.03,809.85 L556.34,808.86 L556.65,807.86 L556.95,806.86 L557.26,805.87 L557.57,804.87 L557.88,803.87 L558.19,802.88 L558.50,801.88 L558.81,800.89 L559.12,799.89 L559.44,798.89 L559.75,797.90 L560.06,796.90 L560.37,795.91 L560.68,794.91 L560.99,793.91 L561.31,792.92 L561.62,791.92 L561.93,790.93 L562.25,789.93 L562.56,788.94 L562.88,787.94 L563.19,786.95 L563.50,785.95 L563.82,784.96 L564.13,783.96 L564.45,782.97 L564.77,781.97 L565.08,780.98 L565.40,779.98 L565.71,778.99 L566.03,777.99 L566.35,777.00 L566.67,776.00 L566.98,775.01 L567.30,774.02 L567.62,773.02 L567.94,772.03 L568.26,771.03 L568.58,770.04 L568.90,769.05 L569.22,768.05 L569.54,767.06 L569.86,766.06 L570.18,765.07 L570.50,764.08 L570.82,763.08 L571.14,762.09 L571.46,761.10 L571.78,760.10 L572.11,759.11 L572.43,758.12 L572.75,757.13 L573.07,756.13 L573.40,755.14 L573.72,754.15 L574.05,753.15 L574.37,752.16 L574.69,751.17 L575.02,750.18 L575.34,749.18 L575.67,748.19 L576.00,747.20 L576.32,746.21 L576.65,745.22 L576.98,744.22 L577.30,743.23 L577.63,742.24 L577.96,741.25 L578.29,740.26 L578.61,739.26 L578.94,738.27 L579.27,737.28 L579.60,736.29 L579.93,735.30 L580.26,734.31 L580.59,733.32 L580.92,732.33 L581.25,731.33 L581.58,730.34 L581.91,729.35 L582.24,728.36 L582.58,727.37 L582.91,726.38 L583.24,725.39 L583.57,724.40 L583.91,723.41 L584.24,722.42 L584.57,721.43 L584.91,720.44 L585.24,719.45 L585.58,718.46 L585.91,717.47 L586.25,716.48 L586.58,715.49 L586.92,714.50 L587.26,713.51 L587.59,712.52 L587.93,711.53 L588.27,710.54 L588.60,709.55 L588.94,708.56 L589.28,707.57 L589.62,706.59 L589.96,705.60 L590.30,704.61 L590.64,703.62 L590.98,702.63 L591.32,701.64 L591.66,700.65 L592.00,699.66 L592.34,698.68 L592.68,697.69 L593.02,696.70 L593.36,695.71 L593.71,694.72 L594.05,693.74 L594.39,692.75 L594.74,691.76 L595.08,690.77 L595.42,689.78 L595.77,688.80 L596.11,687.81 L596.46,686.82 L596.80,685.83 L597.15,684.85 L597.49,683.86 L597.84,682.87 L598.19,681.89 L598.53,680.90 L598.88,679.91 L599.23,678.93 L599.58,677.94 L599.93,676.95 L600.27,675.97 L600.62,674.98 L600.97,673.99 L601.32,673.01 L601.67,672.02 L602.02,671.04 L602.37,670.05 L602.73,669.06 L603.08,668.08 L603.43,667.09 L603.78,666.11 L604.13,665.12 L604.49,664.14 L604.84,663.15 L605.20,662.17 L605.55,661.18 L605.91,660.20 L606.26,659.21 L606.62,658.23 L606.98,657.25 L607.34,656.26 L607.70,655.28 L608.06,654.30 L608.42,653.32 L608.78,652.34 L609.14,651.35 L609.51,650.37 L609.87,649.39 L610.24,648.41 L610.60,647.43 L610.97,646.45 L611.34,645.48 L611.71,644.50 L612.08,643.52 L612.45,642.54 L612.82,641.57 L613.20,640.59 L613.57,639.62 L613.95,638.64 L614.33,637.67 L614.71,636.69 L615.09,635.72 L615.47,634.75 L615.85,633.78 L616.24,632.81 L616.62,631.84 L617.01,630.87 L617.40,629.90 L617.79,628.93 L618.18,627.96 L618.57,627.00 L618.97,626.03 L619.36,625.06 L619.76,624.10 L620.16,623.14 L620.56,622.17 L620.96,621.21 L621.37,620.25 L621.77,619.29 L622.18,618.33 L622.59,617.38 L623.00,616.42 L623.42,615.46 L623.83,614.51 L624.25,613.55 L624.67,612.60 L625.09,611.65 L625.51,610.70 L625.94,609.75 L626.37,608.80 L626.80,607.85 L627.23,606.90 L627.66,605.96 L628.10,605.01 L628.54,604.07 L628.98,603.13 L629.42,602.19 L629.86,601.25 L630.31,600.31 L630.76,599.37 L631.21,598.44 L631.66,597.50 L632.12,596.57 L632.58,595.64 L633.04,594.70 L633.50,593.77 L633.97,592.85 L634.44,591.92 L634.90,590.99 L635.38,590.07 L635.85,589.14 L636.32,588.22 L636.80,587.29 L637.28,586.37 L637.76,585.45 L638.24,584.53 L638.73,583.61 L639.21,582.69 L639.70,581.77 L640.19,580.86 L640.68,579.94 L641.17,579.03 L641.66,578.11 L642.16,577.20 L642.65,576.28 L643.15,575.37 L643.65,574.46 L644.15,573.54 L644.65,572.63 L645.15,571.72 L645.65,570.81 L646.16,569.90 L646.66,568.99 L647.17,568.08 L647.67,567.17 L648.18,566.26 L648.69,565.35 L649.20,564.45 L649.71,563.54 L650.22,562.63 L650.73,561.72 L651.24,560.82 L651.75,559.91 L652.27,559.00 L652.78,558.09 L653.29,557.19 L653.81,556.28 L654.32,555.37 L654.84,554.46 L655.35,553.56 L655.87,552.65 L656.38,551.74 L656.90,550.83 L657.41,549.93 L657.93,549.02 L658.44,548.11 L658.96,547.20 L659.47,546.29 L659.98,545.38 L660.50,544.47 L661.01,543.56 L661.53,542.65 L662.04,541.74 L662.55,540.83 L663.07,539.92 L663.58,539.01 L664.09,538.10 L664.61,537.18 L665.12,536.27 L665.63,535.36 L666.15,534.45 L666.66,533.53 L667.17,532.62 L667.69,531.71 L668.20,530.80 L668.71,529.88 L669.23,528.97 L669.74,528.06 L670.25,527.14 L670.77,526.23 L671.28,525.32 L671.80,524.41 L672.31,523.49 L672.83,522.58 L673.35,521.67 L673.86,520.76 L674.38,519.85 L674.90,518.94 L675.42,518.02 L675.93,517.11 L676.45,516.20 L676.97,515.29 L677.49,514.38 L678.02,513.47 L678.54,512.57 L679.06,511.66 L679.58,510.75 L680.11,509.84 L680.63,508.93 L681.16,508.03 L681.69,507.12 L682.21,506.22 L682.74,505.31 L683.27,504.41 L683.80,503.51 L684.33,502.60 L684.87,501.70 L685.40,500.80 L685.94,499.90 L686.47,499.00 L687.01,498.10 L687.55,497.20 L688.09,496.31 L688.63,495.41 L689.17,494.51 L689.71,493.62 L690.26,492.73 L690.80,491.83 L691.35,490.94 L691.90,490.05 L692.45,489.16 L693.00,488.27 L693.56,487.39 L694.11,486.50 L694.67,485.62 L695.23,484.73 L695.78,483.85 L696.35,482.97 L696.91,482.09 L697.47,481.21 L698.04,480.33 L698.61,479.45 L699.18,478.58 L699.75,477.70 L700.32,476.83 L700.90,475.96 L701.48,475.09 L702.06,474.22 L702.64,473.36 L703.22,472.49 L703.81,471.63 L704.39,470.77 L704.98,469.90 L705.57,469.05 L706.17,468.19 L706.76,467.33 L707.36,466.48 L707.96,465.63 L708.26,465.20 L708.56,464.77 L708.87,464.35 L709.17,463.93 L709.47,463.50 L709.78,463.08 L710.08,462.66 L710.38,462.23 L710.69,461.81 L711.00,461.39 L711.30,460.97 L711.61,460.55 L711.92,460.13 L712.23,459.71 L712.54,459.29 L712.85,458.87 L713.16,458.45 L713.47,458.03 L713.78,457.62 L714.09,457.20 L714.40,456.78 L714.72,456.37 L715.03,455.95 L715.35,455.54 L715.66,455.12 L715.98,454.71 L716.30,454.29 L716.61,453.88 L716.93,453.47 L717.25,453.06 L717.57,452.64 L717.89,452.23 L718.21,451.82 L718.53,451.41 L718.85,451.00 L719.18,450.60 L719.50,450.19 L719.82,449.78 L720.15,449.37 L720.48,448.97 L720.80,448.56 L721.13,448.15 L721.46,447.75 L721.78,447.34 L722.11,446.94 L722.44,446.54 L722.77,446.13 L723.10,445.73 L723.44,445.33 L723.77,444.93 L724.10,444.53 L724.44,444.13 L724.77,443.73 L725.11,443.33 L725.44,442.93 L725.78,442.53 L726.11,442.13 L726.45,441.74 L726.79,441.34 L727.13,440.94 L727.47,440.55 L727.81,440.15 L728.15,439.76 L728.49,439.37 L728.83,438.97 L729.18,438.58 L729.52,438.19 L729.87,437.80 L730.21,437.41 L730.56,437.02 L730.90,436.63 L731.25,436.24 L731.60,435.85 L731.95,435.46 L732.29,435.07 L732.64,434.69 L732.99,434.30 L733.34,433.91 L733.70,433.53 L734.05,433.14 L734.40,432.76 L734.75,432.38 L735.11,431.99 L735.46,431.61 L735.82,431.23 L736.17,430.85 L736.53,430.47 L736.89,430.09 L737.24,429.71 L737.60,429.33 L737.96,428.95 L738.32,428.57 L738.68,428.19 L739.04,427.82 L739.40,427.44 L739.77,427.06 L740.13,426.69 L740.49,426.32 L740.86,425.94 L741.22,425.57 L741.59,425.20 L741.95,424.82 L742.32,424.45 L742.68,424.08 L743.05,423.71 L743.42,423.34 L743.79,422.97 L744.16,422.60 L744.53,422.23 L744.90,421.87 L745.27,421.50 L745.64,421.13 L746.01,420.77 L746.39,420.40 L746.76,420.04 L747.14,419.68 L747.51,419.31 L747.89,418.95 L748.26,418.59 L748.64,418.23 L749.01,417.86 L749.39,417.50 L749.77,417.14 L750.15,416.79 L750.53,416.43 L750.91,416.07 L751.29,415.71 L751.67,415.35 L752.05,415.00 L752.43,414.64 L752.82,414.29 L753.20,413.93 L753.58,413.58 L753.97,413.23 L754.35,412.87 L754.74,412.52 L755.13,412.17 L755.51,411.82 L755.90,411.47 L756.29,411.12 L756.68,410.77 L757.07,410.42 L757.46,410.08 L757.85,409.73 L758.24,409.38 L758.63,409.04 L759.02,408.69 L759.41,408.35 L759.81,408.00 L760.20,407.66 L760.59,407.32 L760.99,406.98 L761.38,406.63 L761.78,406.29 L762.17,405.95 L762.57,405.61 L762.97,405.27 L763.37,404.94 L763.77,404.60 L764.16,404.26 L764.56,403.92 L764.96,403.59 L765.36,403.25 L765.77,402.92 L766.17,402.58 L766.57,402.25 L766.97,401.92 L767.38,401.59 L767.78,401.25 L768.18,400.92 L768.59,400.59 L768.99,400.26 L769.40,399.94 L769.81,399.61 L770.21,399.28 L770.62,398.95 L771.03,398.63 L771.44,398.30 L771.84,397.98 L772.25,397.65 L772.66,397.33 L773.07,397.00 L773.49,396.68 L773.90,396.36 L774.31,396.04 L774.72,395.72 L775.13,395.40 L775.55,395.08 L775.96,394.76 L776.38,394.44 L776.79,394.12 L777.21,393.81 L777.62,393.49 L778.04,393.18 L778.46,392.86 L778.87,392.55 L779.29,392.23 L779.71,391.92 L780.13,391.61 L780.55,391.30 L780.97,390.99 L781.39,390.68 L781.81,390.37 L782.23,390.06 L782.65,389.75 L783.08,389.44 L783.50,389.14 L783.92,388.83 L784.35,388.52 L784.77,388.22 L785.19,387.91 L785.62,387.61 L786.05,387.31 L786.47,387.01 L786.90,386.70 L787.33,386.40 L787.75,386.10 L788.18,385.80 L788.61,385.50 L789.04,385.21 L789.47,384.91 L789.90,384.61 L790.33,384.32 L790.76,384.02 L791.19,383.73 L791.62,383.43 L792.05,383.14 L792.49,382.85 L792.92,382.55 L793.35,382.26 L793.79,381.97 L794.22,381.68 L794.66,381.39 L795.09,381.10 L795.53,380.81 L795.96,380.53 L796.40,380.24 L796.84,379.95 L797.27,379.67 L797.71,379.38 L798.15,379.10 L798.59,378.82 L799.03,378.53 L799.47,378.25 L799.91,377.97 L800.35,377.69 L800.79,377.41 L801.23,377.13 L801.67,376.85 L802.12,376.58 L802.56,376.30 L803.00,376.02 L803.44,375.75 L803.89,375.47 L804.33,375.20 L804.78,374.92 L805.22,374.65 L805.67,374.38 L806.11,374.11 L806.56,373.84 L807.01,373.57 L807.46,373.30 L807.90,373.03 L808.35,372.76 L808.80,372.49 L809.25,372.23 L809.70,371.96 L810.15,371.70 L810.60,371.43 L811.05,371.17 L811.50,370.91 L811.95,370.64 L812.40,370.38 L812.85,370.12 L813.31,369.86 L813.76,369.60 L814.21,369.34 L814.67,369.08 L815.12,368.83 L815.58,368.57 L816.03,368.31 L816.49,368.06 L816.94,367.81 L817.40,367.55 L817.85,367.30 L818.31,367.05 L818.77,366.79 L819.22,366.54 L819.68,366.29 L820.14,366.04 L820.60,365.80 L821.06,365.55 L821.52,365.30 L821.98,365.05 L822.44,364.81 L822.90,364.56 L823.36,364.32 L823.82,364.08 L824.28,363.83 L824.74,363.59 L825.21,363.35 L825.67,363.11 L826.13,362.87 L826.60,362.63 L827.06,362.39 L827.52,362.15 L827.99,361.92 L828.45,361.68 L828.92,361.45 L829.38,361.21 L829.85,360.98 L830.32,360.74 L830.78,360.51 L831.25,360.28 L831.72,360.05 L832.18,359.82 L832.65,359.59 L833.12,359.36 L833.59,359.13 L834.06,358.90 L834.53,358.68 L835.00,358.45 L835.47,358.23 L835.94,358.00 L836.41,357.78 L836.88,357.56 L837.35,357.33 L837.82,357.11 L838.29,356.89 L838.77,356.67 L839.24,356.45 L839.71,356.24 L840.19,356.02 L840.66,355.80 L841.13,355.59 L841.61,355.37 L842.08,355.16 L842.56,354.94 L843.03,354.73 L843.51,354.52 L843.98,354.31 L844.46,354.09 L844.94,353.88 L845.41,353.68 L845.89,353.47 L846.37,353.26 L846.84,353.05 L847.32,352.85 L847.80,352.64 L848.28,352.44 L848.76,352.23 L849.24,352.03 L849.72,351.83 L850.20,351.63 L850.68,351.43 L851.16,351.23 L851.64,351.03 L852.12,350.83 L852.60,350.63 L853.08,350.43 L853.56,350.24 L854.05,350.04 L854.53,349.85 L855.01,349.66 L855.49,349.46 L855.98,349.27 L856.46,349.08 L856.94,348.89 L857.43,348.70 L857.91,348.51 L858.40,348.32 L858.88,348.13 L859.37,347.95 L859.85,347.76 L860.34,347.58 L860.83,347.39 L861.31,347.21 L861.80,347.03 L862.28,346.84 L862.77,346.66 L863.26,346.48 L863.75,346.30 L864.23,346.12 L864.72,345.95 L865.21,345.77 L865.70,345.59 L866.19,345.42 L866.68,345.24 L867.17,345.07 L867.66,344.90 L868.15,344.72 L868.64,344.55 L869.13,344.38 L869.62,344.21 L870.11,344.04 L870.60,343.87 L871.09,343.71 L871.58,343.54 L872.08,343.37 L872.57,343.21 L873.06,343.05 L873.55,342.88 L874.05,342.72 L874.54,342.56 L875.03,342.40 L875.53,342.24 L876.02,342.08 L876.51,341.92 L877.01,341.76 L877.50,341.60 L878.00,341.45 L878.49,341.29 L878.99,341.14 L879.48,340.98 L879.98,340.83 L880.47,340.68 L880.97,340.52 L881.47,340.37 L881.96,340.22 L882.46,340.07 L882.96,339.92 L883.45,339.78 L883.95,339.63 L884.45,339.48 L884.95,339.34 L885.44,339.19 L885.94,339.05 L886.44,338.90 L886.94,338.76 L887.44,338.62 L887.94,338.48 L888.44,338.34 L888.94,338.20 L889.44,338.06 L889.94,337.92 L890.44,337.78 L890.94,337.65 L891.44,337.51 L891.94,337.37 L892.44,337.24 L892.94,337.11 L893.44,336.97 L893.94,336.84 L894.45,336.71 L894.95,336.58 L895.45,336.45 L895.95,336.32 L896.45,336.19 L896.96,336.06 L897.46,335.93 L897.96,335.80 L898.47,335.68 L898.97,335.55 L899.47,335.43 L899.98,335.30 L900.48,335.18 L900.99,335.05 L901.49,334.93 L902.00,334.81 L902.50,334.69 L903.01,334.57 L903.51,334.45 L904.02,334.33 L904.52,334.21 L905.03,334.09 L905.53,333.98 L906.04,333.86 L906.55,333.74 L907.05,333.63 L907.56,333.51 L908.07,333.40 L908.57,333.29 L909.08,333.18 L909.59,333.06 L910.10,332.95 L910.60,332.84 L911.11,332.73 L911.62,332.62 L912.13,332.51 L912.64,332.40 L913.14,332.30 L913.65,332.19 L914.16,332.08 L914.67,331.98 L915.18,331.87 L915.69,331.77 L916.20,331.67 L916.71,331.56 L917.22,331.46 L917.73,331.36 L918.24,331.26 L918.75,331.15 L919.26,331.05 L919.77,330.95 L920.28,330.86 L920.79,330.76 L921.30,330.66 L921.82,330.56 L922.33,330.46 L922.84,330.37 L923.35,330.27 L923.86,330.18 L924.37,330.08 L924.89,329.99 L925.40,329.90 L925.91,329.80 L926.42,329.71 L926.94,329.62 L927.45,329.53 L927.96,329.44 L928.48,329.35 L928.99,329.26 L929.50,329.17 L930.02,329.08 L930.53,328.99 L931.04,328.91 L931.56,328.82 L932.07,328.73 L932.59,328.65 L933.10,328.56 L933.61,328.48 L934.13,328.39 L934.64,328.31 L935.16,328.23 L935.67,328.14 L936.19,328.06 L936.70,327.98 L937.22,327.90 L937.73,327.82 L938.25,327.74 L938.77,327.66 L939.28,327.58 L939.80,327.50 L940.31,327.43 L940.83,327.35 L941.35,327.27 L941.86,327.19 L942.38,327.12 L942.90,327.04 L943.41,326.97 L943.93,326.89 L944.45,326.82 L944.96,326.75 L945.48,326.67 L946.00,326.60 L946.52,326.53 L947.03,326.46 L947.55,326.39 L948.07,326.31 L948.59,326.24 L949.11,326.17 L949.62,326.11 L950.14,326.04 L950.66,325.97 L951.18,325.90 L951.70,325.83 L952.22,325.77 L952.73,325.70 L953.25,325.63 L953.77,325.57 L954.29,325.50 L954.81,325.44 L955.33,325.37 L955.85,325.31 L956.37,325.24 L956.89,325.18 L957.41,325.12 L957.93,325.06 L958.45,324.99 L958.96,324.93 L959.48,324.87 L960.00,324.81 L960.52,324.75 L961.04,324.69 L961.56,324.63 L962.08,324.57 L962.61,324.51 L963.13,324.46 L963.65,324.40 L964.17,324.34 L964.69,324.28 L965.21,324.23 L965.73,324.17 L966.25,324.12 L966.77,324.06 L967.29,324.01 L967.81,323.95 L968.33,323.90 L968.85,323.84 L969.38,323.79 L969.90,323.74 L970.42,323.68 L970.94,323.63 L971.46,323.58 L971.98,323.53 L972.51,323.48 L973.03,323.42 L973.55,323.37 L974.07,323.32 L974.59,323.27 L975.11,323.22 L975.64,323.17 L976.16,323.13 L976.68,323.08 L977.20,323.03 L977.72,322.98 L978.25,322.93 L978.77,322.89 L979.29,322.84 L979.81,322.79 L980.34,322.75 L980.86,322.70 L981.38,322.66 L981.90,322.61 L982.43,322.57 L982.95,322.52 L983.47,322.48 L983.99,322.43 L984.52,322.39 L985.04,322.35 L985.56,322.30 L986.09,322.26 L986.61,322.22 L987.13,322.17 L987.66,322.13 L988.18,322.09 L988.70,322.05 L989.22,322.01 L989.75,321.97 L990.27,321.93 L990.79,321.89 L991.32,321.85 L991.84,321.81 L992.36,321.77 L992.89,321.73 L993.41,321.69 L993.93,321.65 L994.46,321.61 L994.98,321.58 L995.50,321.54 L996.03,321.50 L996.55,321.46 L997.07,321.43 L997.60,321.39 L998.12,321.35 L998.64,321.32 L999.17,321.28 L999.69,321.25 L1000.22,321.21 L1000.74,321.17 L1001.26,321.14 L1001.79,321.10 L1002.31,321.07 L1002.83,321.04 L1003.36,321.00 L1003.88,320.97 L1004.40,320.93 L1004.93,320.90 L1005.45,320.87 L1005.98,320.83 L1006.50,320.80 L1007.02,320.77 L1007.55,320.74 L1008.07,320.70 L1008.59,320.67 L1009.12,320.64 L1009.64,320.61 L1010.16,320.58 L1010.69,320.55 L1011.21,320.52 L1011.74,320.48 L1012.26,320.45 L1012.78,320.42 L1013.31,320.39 L1013.83,320.36 L1014.35,320.33 L1014.88,320.30 L1015.40,320.27 L1015.92,320.25 L1016.45,320.22 L1016.97,320.19 L1017.49,320.16 L1018.02,320.13 L1018.54,320.10 L1019.07,320.07 L1019.59,320.04 L1020.11,320.02 L1020.64,319.99 L1021.16,319.96 L1021.68,319.93 L1022.21,319.91 L1022.73,319.88 L1023.25,319.85 L1023.78,319.82 L1024.30,319.80 L1024.82,319.77 L1025.35,319.75 L1025.87,319.72 L1026.39,319.69 L1026.92,319.67 L1027.44,319.64 L1027.96,319.62 L1028.48,319.59 L1029.01,319.57 L1029.53,319.54 L1030.05,319.52 L1030.58,319.49 L1031.10,319.47 L1031.62,319.44 L1032.15,319.42 L1032.67,319.39 L1033.19,319.37 L1033.72,319.34 L1034.24,319.32 L1034.76,319.30 L1035.28,319.27 L1035.81,319.25 L1036.33,319.23 L1036.85,319.20 L1037.38,319.18 L1037.90,319.16 L1038.42,319.14 L1038.95,319.11 L1039.47,319.09 L1039.99,319.07 L1040.51,319.05 L1041.04,319.03 L1041.56,319.01 L1042.08,318.98 L1042.60,318.96 L1043.13,318.94 L1043.65,318.92 L1044.17,318.90 L1044.70,318.88 L1045.22,318.86 L1045.74,318.84 L1046.26,318.82 L1046.79,318.80 L1047.31,318.78 L1047.83,318.76 L1048.35,318.74 L1048.88,318.72 L1049.40,318.70 L1049.92,318.68 L1050.45,318.66 L1050.97,318.64 L1051.49,318.62 L1052.01,318.60 L1052.54,318.59 L1053.06,318.57 L1053.58,318.55 L1054.10,318.53 L1054.63,318.51 L1055.15,318.49 L1055.67,318.48 L1056.19,318.46 L1056.72,318.44 L1057.24,318.42 L1057.76,318.41 L1058.28,318.39 L1058.81,318.37 L1059.33,318.36 L1059.85,318.34 L1061.85,318.24 L1063.85,318.13 L1065.85,318.03 L1067.85,317.93 L1069.85,317.83 L1071.85,317.73 L1073.85,317.64 L1075.85,317.55 L1077.85,317.47 L1079.85,317.39 L1081.85,317.32 L1083.85,317.26 L1085.85,317.20 L1087.85,317.16 L1089.85,317.12 L1091.85,317.10 L1093.85,317.08 L1095.85,317.06 L1097.85,317.04 L1099.85,317.02 L1101.85,317.01 L1103.85,316.99 L1105.85,316.98 L1107.85,316.96 L1109.85,316.95 L1111.85,316.93 L1113.85,316.92 L1115.85,316.91 L1117.85,316.89 L1119.85,316.88 L1121.85,316.87 L1123.85,316.86 L1125.85,316.85 L1127.85,316.85 L1129.85,316.84 L1131.85,316.83 L1133.85,316.82 L1135.85,316.82 L1137.85,316.81 L1139.85,316.81 L1141.85,316.81 L1143.85,316.80 L1145.85,316.80 L1147.85,316.80 L1149.85,316.80 L1151.85,316.80 L1153.85,316.80 L1155.85,316.80 L1157.85,316.81 L1159.85,316.81 L1161.85,316.82 L1163.85,316.82 L1165.85,316.83 L1167.85,316.83 L1169.85,316.84 L1171.85,316.85 L1173.85,316.86 L1175.85,316.87 L1177.85,316.88 L1179.85,316.89 L1181.85,316.90 L1183.85,316.91 L1185.85,316.92 L1187.85,316.93 L1189.85,316.94 L1191.85,316.95 L1193.85,316.96 L1195.85,316.98 L1197.85,316.99 L1199.85,317.00 L1201.85,317.01 L1203.85,317.02 L1205.85,317.04 L1207.85,317.05 L1209.85,317.07 L1211.85,317.08 L1213.85,317.10 L1215.85,317.12 L1217.85,317.14 L1219.85,317.16 L1221.85,317.18 L1223.85,317.20 L1225.85,317.22 L1227.85,317.24 L1229.85,317.26 L1231.85,317.28 L1233.85,317.31 L1235.85,317.33 L1237.85,317.35 L1239.85,317.38 L1241.85,317.40 L1243.85,317.42 L1245.85,317.45 L1247.85,317.47 L1249.85,317.50 L1251.85,317.52 L1253.85,317.55 L1255.85,317.58 L1257.85,317.61 L1259.85,317.65 L1261.85,317.68 L1263.85,317.72 L1265.85,317.76 L1267.85,317.80 L1269.85,317.84 L1271.85,317.88 L1273.85,317.91 L1275.85,317.95 L1277.85,317.99 L1279.85,318.03 L1281.85,318.06 L1283.85,318.10 L1285.85,318.13 L1287.85,318.16 L1289.85,318.19 L1291.85,318.22 L1293.85,318.24 L1295.85,318.27 L1297.85,318.28 L1299.85,318.30 L1301.85,318.31 L1303.85,318.32 L1305.85,318.33 L1307.85,318.34 L1309.85,318.35 L1311.85,318.36 L1313.85,318.37 L1315.85,318.38 L1317.85,318.39 L1319.85,318.40 L1321.85,318.40 L1323.85,318.41 L1325.85,318.42 L1327.85,318.42 L1329.85,318.43 L1331.85,318.44 L1333.85,318.44 L1335.85,318.45 L1337.85,318.46 L1339.85,318.46 L1341.85,318.47 L1343.85,318.48 L1345.85,318.48 L1347.85,318.49 L1349.85,318.50 L1351.85,318.51 L1353.85,318.51 L1355.85,318.52 L1357.85,318.53 L1359.85,318.54 L1361.85,318.54 L1363.85,318.55 L1365.85,318.56 L1367.85,318.56 L1369.85,318.57 L1371.85,318.58 L1373.85,318.59 L1375.85,318.59 L1377.85,318.60 L1379.85,318.61 L1381.85,318.61 L1383.85,318.62 L1385.85,318.63 L1387.85,318.64 L1389.85,318.65 L1391.85,318.66 L1393.85,318.67 L1395.85,318.68 L1397.85,318.69 L1399.85,318.70 L1401.85,318.71 L1403.85,318.72 L1405.85,318.74 L1407.85,318.76 L1409.85,318.77 L1411.85,318.79 L1413.85,318.81 L1415.85,318.83 L1417.85,318.85 L1419.85,318.87 L1421.85,318.89 L1423.85,318.92 L1425.85,318.94 L1427.85,318.96 L1429.85,318.99 L1431.85,319.01 L1433.85,319.03 L1435.85,319.05 L1437.85,319.08 L1439.85,319.10 L1441.85,319.12 L1443.85,319.14 L1445.85,319.16 L1447.85,319.18 L1449.85,319.20 L1451.85,319.22 L1453.85,319.23 L1455.85,319.25 L1457.85,319.27 L1459.85,319.29 L1461.85,319.31 L1463.85,319.32 L1465.85,319.34 L1467.85,319.36 L1469.85,319.38 L1471.85,319.39 L1473.85,319.41 L1475.85,319.43 L1477.85,319.44 L1479.85,319.46 L1481.85,319.48 L1483.85,319.49 L1485.85,319.51 L1487.85,319.52 L1489.85,319.54 L1491.85,319.55 L1493.85,319.56 L1495.85,319.58 L1497.85,319.59 L1499.85,319.60 L1501.85,319.61 L1503.85,319.62 L1505.85,319.63 L1507.85,319.64 L1509.85,319.66 L1511.85,319.67 L1513.85,319.68 L1515.85,319.69 L1517.85,319.70 L1519.85,319.71 L1521.85,319.72 L1523.85,319.73 L1525.85,319.75 L1527.85,319.76 L1529.85,319.77 L1531.85,319.78 L1533.85,319.79 L1535.85,319.80 L1537.85,319.81 L1539.85,319.82 L1541.85,319.83 L1543.85,319.84 L1545.85,319.85 L1547.85,319.86 L1549.85,319.87 L1551.85,319.88 L1553.85,319.89 L1555.85,319.90 L1557.85,319.90 L1559.85,319.91 L1561.85,319.92 L1563.85,319.93 L1565.85,319.93 L1567.85,319.94 L1569.85,319.95 L1571.85,319.95 L1573.85,319.96 L1575.85,319.97 L1577.85,319.97 L1579.85,319.98 L1581.85,319.98 L1583.85,319.98 L1585.85,319.99 L1587.85,319.99 L1589.85,319.99 L1591.85,320.00 L1593.85,320.00 L1595.85,320.00 L1597.85,320.00 L1599.85,320.00 L1601.85,320.00 L1603.85,320.00 L1605.85,320.00 L1607.85,320.00 L1609.85,320.00 L1611.85,320.00 L1613.85,320.00 L1615.85,320.00 L1617.85,320.00 L1619.85,320.00 L1621.85,320.00 L1623.85,320.00 L1625.85,320.00 L1627.85,320.00 L1629.85,320.00 L1631.85,320.00 L1633.85,320.00 L1635.85,320.00 L1637.85,320.00 L1639.85,320.00 L1641.85,320.00 L1643.85,320.00 L1645.85,320.00 L1647.85,320.00 L1649.85,320.00 L1651.85,320.00 L1653.85,320.00 L1655.85,320.00 L1657.85,320.00 L1659.85,320.00 L1661.85,320.00 L1663.85,320.00 L1665.85,320.00 L1667.85,320.00 L1669.85,320.00 L1671.85,320.00 L1673.85,320.00 L1675.85,320.00 L1677.85,320.00 L1679.85,320.00 L1681.85,320.00 L1683.85,320.00 L1685.85,320.00 L1687.85,320.00 L1689.85,320.00 L1691.85,320.00 L1693.85,320.00 L1695.85,320.00 L1697.85,320.00 L1699.85,320.00 L1701.85,320.00 L1703.85,320.00 L1705.85,320.00 L1707.85,320.00 L1709.85,320.00 L1711.85,320.00 L1713.85,320.00 L1715.85,320.00 L1717.85,320.00 L1719.85,320.00 L1721.85,320.00 L1723.85,320.00 L1725.85,320.00 L1727.85,320.00 L1729.85,320.00 L1731.85,320.00 L1733.85,320.00 L1735.85,320.00 L1737.85,320.00 L1739.85,320.00 L1741.85,320.00 L1743.85,320.00 L1745.85,320.00 L1747.85,320.00 L1749.85,320.00 L1751.85,320.00 L1753.85,320.00 L1755.85,320.00 L1757.85,320.00 L1759.85,320.00 L1761.85,320.00 L1763.85,320.00 L1765.85,320.00 L1767.85,320.00 L1769.85,320.00 L1771.85,320.00 L1773.85,320.00 L1775.85,320.00 L1777.85,320.00 L1779.85,320.00 L1781.85,320.00 L1783.85,320.00 L1785.85,320.00 L1787.85,320.00 L1789.85,320.00 L1791.85,320.00 L1793.85,320.00 L1795.85,320.00 L1797.85,320.00 L1799.85,320.00 L1801.85,320.00 L1803.85,320.00 L1805.85,320.00 L1807.85,320.00 L1809.85,320.00 L1811.85,320.00 L1813.85,320.00 L1815.85,320.00 L1817.85,320.00 L1819.85,320.00 L1821.85,320.00 L1823.85,320.00 L1825.85,320.00 L1827.85,320.00 L1829.85,320.00 L1831.85,320.00 L1833.85,320.00 L1835.85,320.00 L1837.85,320.00 L1839.85,320.00 L1841.85,320.00 L1843.85,320.00 L1845.85,320.00 L1847.85,320.00 L1849.85,320.00 L1851.85,320.00 L1853.85,320.00 L1855.85,320.00 L1857.85,320.00 L1859.85,320.00 L1861.85,320.00 L1863.85,320.00 L1865.85,320.00 L1867.85,320.00 L1869.85,320.00 L1871.85,320.00 L1873.85,320.00 L1875.85,320.00 L1877.85,320.00 L1879.85,320.00 L1881.85,320.00 L1883.85,320.00 L1885.85,320.00 L1887.85,320.00 L1889.85,320.00 L1891.85,320.00 L1893.85,320.00 L1895.85,320.00 L1897.85,320.00 L1899.85,320.00 L1901.85,320.00 L1903.85,320.00 L1905.85,320.00 L1907.85,320.00 L1909.85,320.00 L1911.85,320.00 L1913.85,320.00 L1915.85,320.00 L1917.85,320.00 L1919.85,320.00 L1921.85,320.00 L1923.85,320.00 L1925.85,320.00 L1927.85,320.00 L1929.85,320.00 L1931.85,320.00 L1933.85,320.00 L1935.85,320.00 L1937.85,320.00 L1939.85,320.00 L1941.85,320.00 L1943.85,320.00 L1945.85,320.00 L1947.85,320.00 L1949.85,320.00 L1951.85,320.00 L1953.85,320.00 L1955.85,320.00 L1957.85,320.00 L1959.85,320.00 L1961.85,320.00 L1963.85,320.00 L1965.85,320.00 L1967.85,320.00 L1969.85,320.00 L1971.85,320.00 L1973.85,320.00 L1975.85,320.00 L1977.85,320.00 L1979.85,320.00 L1981.85,320.00 L1983.85,320.00 L1985.85,320.00 L1987.85,320.00 L1989.85,320.00 L1991.85,320.00 L1993.85,320.00 L1995.85,320.00 L1997.85,320.00 L1999.85,320.00 L2001.85,320.00 L2003.50,320.00" stroke="#0072bd" stroke-width="5" stroke-linejoin="round"/>
</g>
<rect x="1000.5" y="1109.5" width="999" height="333" fill="#ffffff" stroke="#262626" stroke-width="3"/>
<g fill="none" stroke-linecap="butt">
<path d="M1013,1156 H1137.5" stroke="#0072bd" stroke-width="10" stroke-dasharray="7.7 5.25"/>
<path d="M1013,1236.5 H1143" stroke="#ff0000" stroke-width="5" stroke-dasharray="33.2 18.8"/>
<path d="M1013,1316.5 H1143" stroke="#bf00bf" stroke-width="5" stroke-dasharray="27 9 7 9"/>
<path d="M1013,1397.1 H1143" stroke="#0072bd" stroke-width="5.5"/>
</g>
<text transform="translate(1152,1177.8) scale(1,1.05)" font-size="60.5" fill="#000" stroke="#000" stroke-width="1.2" stroke-linejoin="round" text-anchor="start">Setpoint</text>
<text transform="translate(1152,1257.8) scale(1,1.05)" font-size="60.5" fill="#000" stroke="#000" stroke-width="1.2" stroke-linejoin="round" text-anchor="start">PID controller by modified PM</text>
<text transform="translate(1152,1338.2) scale(1,1.05)" font-size="60.5" fill="#000" stroke="#000" stroke-width="1.2" stroke-linejoin="round" text-anchor="start">PID controller by traditional PM</text>
<text transform="translate(1152,1418.4) scale(1,1.05)" font-size="60.5" fill="#000" stroke="#000" stroke-width="1.2" stroke-linejoin="round" text-anchor="start">PID controller by ZN</text>
<text transform="translate(1084.5,65.8) scale(1,1.05)" font-size="60.3" fill="#000" stroke="#000" stroke-width="1.2" stroke-linejoin="round" text-anchor="middle">Control curves of different PID controllers</text>
<text transform="translate(1078,1597) scale(1,1.02)" font-size="60.6" fill="#262626" stroke="#262626" stroke-width="1.2" stroke-linejoin="round" text-anchor="middle">time (s)</text>
<text transform="translate(60.6,768.5) rotate(-90) scale(1,0.93)" font-size="61.4" fill="#262626" stroke="#262626" stroke-width="1.2" stroke-linejoin="round" text-anchor="middle">output</text>
<text transform="translate(170.0,1504.6) scale(1,1.045)" font-size="42" fill="#262626" stroke="#262626" stroke-width="1.0" stroke-linejoin="round" text-anchor="middle">0</text>
<text transform="translate(353.2,1504.6) scale(1,1.045)" font-size="42" fill="#262626" stroke="#262626" stroke-width="1.0" stroke-linejoin="round" text-anchor="middle">100</text>
<text transform="translate(536.4,1504.6) scale(1,1.045)" font-size="42" fill="#262626" stroke="#262626" stroke-width="1.0" stroke-linejoin="round" text-anchor="middle">200</text>
<text transform="translate(719.6,1504.6) scale(1,1.045)" font-size="42" fill="#262626" stroke="#262626" stroke-width="1.0" stroke-linejoin="round" text-anchor="middle">300</text>
<text transform="translate(902.8,1504.6) scale(1,1.045)" font-size="42" fill="#262626" stroke="#262626" stroke-width="1.0" stroke-linejoin="round" text-anchor="middle">400</text>
<text transform="translate(1086.0,1504.6) scale(1,1.045)" font-size="42" fill="#262626" stroke="#262626" stroke-width="1.0" stroke-linejoin="round" text-anchor="middle">500</text>
<text transform="translate(1269.2,1504.6) scale(1,1.045)" font-size="42" fill="#262626" stroke="#262626" stroke-width="1.0" stroke-linejoin="round" text-anchor="middle">600</text>
<text transform="translate(1452.4,1504.6) scale(1,1.045)" font-size="42" fill="#262626" stroke="#262626" stroke-width="1.0" stroke-linejoin="round" text-anchor="middle">700</text>
<text transform="translate(1635.6,1504.6) scale(1,1.045)" font-size="42" fill="#262626" stroke="#262626" stroke-width="1.0" stroke-linejoin="round" text-anchor="middle">800</text>
<text transform="translate(1818.8,1504.6) scale(1,1.045)" font-size="42" fill="#262626" stroke="#262626" stroke-width="1.0" stroke-linejoin="round" text-anchor="middle">900</text>
<text transform="translate(2002.0,1504.6) scale(1,1.045)" font-size="42" fill="#262626" stroke="#262626" stroke-width="1.0" stroke-linejoin="round" text-anchor="middle">1000</text>
<text transform="translate(150.3,1459.3) scale(1,1.045)" font-size="42" fill="#262626" stroke="#262626" stroke-width="1.0" stroke-linejoin="round" text-anchor="end">0</text>
<text transform="translate(150.3,1234.8) scale(1,1.045)" font-size="42" fill="#262626" stroke="#262626" stroke-width="1.0" stroke-linejoin="round" text-anchor="end">0.2</text>
<text transform="translate(150.3,1010.3) scale(1,1.045)" font-size="42" fill="#262626" stroke="#262626" stroke-width="1.0" stroke-linejoin="round" text-anchor="end">0.4</text>
<text transform="translate(150.3,785.8) scale(1,1.045)" font-size="42" fill="#262626" stroke="#262626" stroke-width="1.0" stroke-linejoin="round" text-anchor="end">0.6</text>
<text transform="translate(150.3,561.3) scale(1,1.045)" font-size="42" fill="#262626" stroke="#262626" stroke-width="1.0" stroke-linejoin="round" text-anchor="end">0.8</text>
<text transform="translate(150.3,336.8) scale(1,1.045)" font-size="42" fill="#262626" stroke="#262626" stroke-width="1.0" stroke-linejoin="round" text-anchor="end">1</text>
<text transform="translate(150.3,112.3) scale(1,1.045)" font-size="42" fill="#262626" stroke="#262626" stroke-width="1.0" stroke-linejoin="round" text-anchor="end">1.2</text>
</svg></body></html>
